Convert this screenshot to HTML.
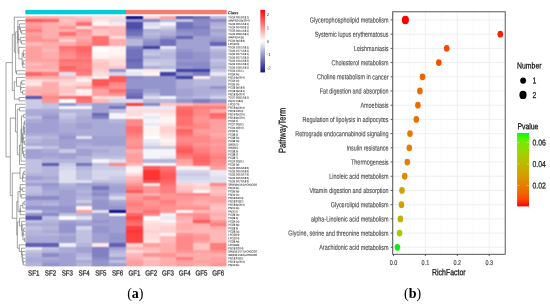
<!DOCTYPE html>
<html><head><meta charset="utf-8"><style>html,body{margin:0;padding:0;background:#fff;width:550px;height:304px;overflow:hidden;position:relative}</style></head><body>
<svg width="550" height="304" viewBox="0 0 550 304" style="position:absolute;left:0;top:0">
<rect width="550" height="304" fill="#fff"/>
<defs><filter id="soft" x="0" y="0" width="550" height="304" filterUnits="userSpaceOnUse" color-interpolation-filters="sRGB"><feConvolveMatrix order="3" kernelMatrix="1 2 1 2 4 2 1 2 1" divisor="16" edgeMode="duplicate"/></filter></defs>
<g>
<rect x="25.30" y="9.9" width="100.70" height="4.4" fill="#00CCD6"/>
<rect x="126.00" y="9.9" width="100.70" height="4.4" fill="#F87A70"/>
<defs><filter id="bl" x="0" y="0" width="550" height="304" filterUnits="userSpaceOnUse" color-interpolation-filters="sRGB"><feConvolveMatrix order="3" kernelMatrix="1 2 1 2 4 2 1 2 1" divisor="16" edgeMode="duplicate"/></filter><clipPath id="hc"><rect x="25.30" y="15.50" width="201.40" height="251.10"/></clipPath></defs>
<g clip-path="url(#hc)"><g shape-rendering="crispEdges" filter="url(#bl)">
<rect x="25.30" y="15.50" width="16.83" height="3.40" fill="#ffacac"/>
<rect x="42.08" y="15.50" width="16.83" height="3.40" fill="#ffacac"/>
<rect x="58.87" y="15.50" width="16.83" height="3.40" fill="#ffb8b8"/>
<rect x="75.65" y="15.50" width="16.83" height="3.40" fill="#ffc4c4"/>
<rect x="92.43" y="15.50" width="16.83" height="3.40" fill="#ffdbdb"/>
<rect x="109.22" y="15.50" width="16.83" height="3.40" fill="#ffdbdb"/>
<rect x="126.00" y="15.50" width="16.83" height="3.40" fill="#14148f"/>
<rect x="142.78" y="15.50" width="16.83" height="3.40" fill="#ffd0d0"/>
<rect x="159.57" y="15.50" width="16.83" height="3.40" fill="#ffa0a0"/>
<rect x="176.35" y="15.50" width="16.83" height="3.40" fill="#5a5ab1"/>
<rect x="193.13" y="15.50" width="16.83" height="3.40" fill="#7272bc"/>
<rect x="209.92" y="15.50" width="16.83" height="3.40" fill="#b8b8dd"/>
<rect x="25.30" y="18.85" width="16.83" height="3.40" fill="#ff5959"/>
<rect x="42.08" y="18.85" width="16.83" height="3.40" fill="#ff6565"/>
<rect x="58.87" y="18.85" width="16.83" height="3.40" fill="#ffc4c4"/>
<rect x="75.65" y="18.85" width="16.83" height="3.40" fill="#ffacac"/>
<rect x="92.43" y="18.85" width="16.83" height="3.40" fill="#ffe7e7"/>
<rect x="109.22" y="18.85" width="16.83" height="3.40" fill="#dfdff0"/>
<rect x="126.00" y="18.85" width="16.83" height="3.40" fill="#9595cd"/>
<rect x="142.78" y="18.85" width="16.83" height="3.40" fill="#8a8ac7"/>
<rect x="159.57" y="18.85" width="16.83" height="3.40" fill="#b8b8dd"/>
<rect x="176.35" y="18.85" width="16.83" height="3.40" fill="#c4c4e3"/>
<rect x="193.13" y="18.85" width="16.83" height="3.40" fill="#8a8ac7"/>
<rect x="209.92" y="18.85" width="16.83" height="3.40" fill="#8a8ac7"/>
<rect x="25.30" y="22.20" width="16.83" height="3.40" fill="#ffa0a0"/>
<rect x="42.08" y="22.20" width="16.83" height="3.40" fill="#ffacac"/>
<rect x="58.87" y="22.20" width="16.83" height="3.40" fill="#ffb8b8"/>
<rect x="75.65" y="22.20" width="16.83" height="3.40" fill="#ff7171"/>
<rect x="92.43" y="22.20" width="16.83" height="3.40" fill="#fff3f3"/>
<rect x="109.22" y="22.20" width="16.83" height="3.40" fill="#ffe7e7"/>
<rect x="126.00" y="22.20" width="16.83" height="3.40" fill="#4f4fab"/>
<rect x="142.78" y="22.20" width="16.83" height="3.40" fill="#dcdcee"/>
<rect x="159.57" y="22.20" width="16.83" height="3.40" fill="#f3f3f9"/>
<rect x="176.35" y="22.20" width="16.83" height="3.40" fill="#7272bc"/>
<rect x="193.13" y="22.20" width="16.83" height="3.40" fill="#8a8ac7"/>
<rect x="209.92" y="22.20" width="16.83" height="3.40" fill="#adadd8"/>
<rect x="25.30" y="25.54" width="16.83" height="3.40" fill="#ff9494"/>
<rect x="42.08" y="25.54" width="16.83" height="3.40" fill="#ffacac"/>
<rect x="58.87" y="25.54" width="16.83" height="3.40" fill="#ff9494"/>
<rect x="75.65" y="25.54" width="16.83" height="3.40" fill="#ffdbdb"/>
<rect x="92.43" y="25.54" width="16.83" height="3.40" fill="#ffacac"/>
<rect x="109.22" y="25.54" width="16.83" height="3.40" fill="#ffb8b8"/>
<rect x="126.00" y="25.54" width="16.83" height="3.40" fill="#4f4fab"/>
<rect x="142.78" y="25.54" width="16.83" height="3.40" fill="#e8e8f4"/>
<rect x="159.57" y="25.54" width="16.83" height="3.40" fill="#d0d0e9"/>
<rect x="176.35" y="25.54" width="16.83" height="3.40" fill="#7272bc"/>
<rect x="193.13" y="25.54" width="16.83" height="3.40" fill="#7e7ec1"/>
<rect x="209.92" y="25.54" width="16.83" height="3.40" fill="#b8b8dd"/>
<rect x="25.30" y="28.89" width="16.83" height="3.40" fill="#ff7d7d"/>
<rect x="42.08" y="28.89" width="16.83" height="3.40" fill="#ffacac"/>
<rect x="58.87" y="28.89" width="16.83" height="3.40" fill="#ffacac"/>
<rect x="75.65" y="28.89" width="16.83" height="3.40" fill="#ff9494"/>
<rect x="92.43" y="28.89" width="16.83" height="3.40" fill="#ffc4c4"/>
<rect x="109.22" y="28.89" width="16.83" height="3.40" fill="#ffb8b8"/>
<rect x="126.00" y="28.89" width="16.83" height="3.40" fill="#6666b6"/>
<rect x="142.78" y="28.89" width="16.83" height="3.40" fill="#adadd8"/>
<rect x="159.57" y="28.89" width="16.83" height="3.40" fill="#b8b8dd"/>
<rect x="176.35" y="28.89" width="16.83" height="3.40" fill="#8a8ac7"/>
<rect x="193.13" y="28.89" width="16.83" height="3.40" fill="#8a8ac7"/>
<rect x="209.92" y="28.89" width="16.83" height="3.40" fill="#a1a1d2"/>
<rect x="25.30" y="32.24" width="16.83" height="3.40" fill="#ffa0a0"/>
<rect x="42.08" y="32.24" width="16.83" height="3.40" fill="#ffacac"/>
<rect x="58.87" y="32.24" width="16.83" height="3.40" fill="#ff7171"/>
<rect x="75.65" y="32.24" width="16.83" height="3.40" fill="#ffa0a0"/>
<rect x="92.43" y="32.24" width="16.83" height="3.40" fill="#ffc4c4"/>
<rect x="109.22" y="32.24" width="16.83" height="3.40" fill="#ffb8b8"/>
<rect x="126.00" y="32.24" width="16.83" height="3.40" fill="#7272bc"/>
<rect x="142.78" y="32.24" width="16.83" height="3.40" fill="#b8b8dd"/>
<rect x="159.57" y="32.24" width="16.83" height="3.40" fill="#adadd8"/>
<rect x="176.35" y="32.24" width="16.83" height="3.40" fill="#9595cd"/>
<rect x="193.13" y="32.24" width="16.83" height="3.40" fill="#8a8ac7"/>
<rect x="209.92" y="32.24" width="16.83" height="3.40" fill="#adadd8"/>
<rect x="25.30" y="35.59" width="16.83" height="3.40" fill="#ff9494"/>
<rect x="42.08" y="35.59" width="16.83" height="3.40" fill="#ffacac"/>
<rect x="58.87" y="35.59" width="16.83" height="3.40" fill="#ffacac"/>
<rect x="75.65" y="35.59" width="16.83" height="3.40" fill="#ffacac"/>
<rect x="92.43" y="35.59" width="16.83" height="3.40" fill="#ff7171"/>
<rect x="109.22" y="35.59" width="16.83" height="3.40" fill="#ffdbdb"/>
<rect x="126.00" y="35.59" width="16.83" height="3.40" fill="#9595cd"/>
<rect x="142.78" y="35.59" width="16.83" height="3.40" fill="#adadd8"/>
<rect x="159.57" y="35.59" width="16.83" height="3.40" fill="#9595cd"/>
<rect x="176.35" y="35.59" width="16.83" height="3.40" fill="#6666b6"/>
<rect x="193.13" y="35.59" width="16.83" height="3.40" fill="#a1a1d2"/>
<rect x="209.92" y="35.59" width="16.83" height="3.40" fill="#a1a1d2"/>
<rect x="25.30" y="38.94" width="16.83" height="3.40" fill="#ff9494"/>
<rect x="42.08" y="38.94" width="16.83" height="3.40" fill="#ff9494"/>
<rect x="58.87" y="38.94" width="16.83" height="3.40" fill="#ffd0d0"/>
<rect x="75.65" y="38.94" width="16.83" height="3.40" fill="#ffa0a0"/>
<rect x="92.43" y="38.94" width="16.83" height="3.40" fill="#ff7171"/>
<rect x="109.22" y="38.94" width="16.83" height="3.40" fill="#ffacac"/>
<rect x="126.00" y="38.94" width="16.83" height="3.40" fill="#b8b8dd"/>
<rect x="142.78" y="38.94" width="16.83" height="3.40" fill="#9595cd"/>
<rect x="159.57" y="38.94" width="16.83" height="3.40" fill="#7272bc"/>
<rect x="176.35" y="38.94" width="16.83" height="3.40" fill="#a1a1d2"/>
<rect x="193.13" y="38.94" width="16.83" height="3.40" fill="#a1a1d2"/>
<rect x="209.92" y="38.94" width="16.83" height="3.40" fill="#9595cd"/>
<rect x="25.30" y="42.28" width="16.83" height="3.40" fill="#ffb8b8"/>
<rect x="42.08" y="42.28" width="16.83" height="3.40" fill="#ffacac"/>
<rect x="58.87" y="42.28" width="16.83" height="3.40" fill="#ffacac"/>
<rect x="75.65" y="42.28" width="16.83" height="3.40" fill="#ff9494"/>
<rect x="92.43" y="42.28" width="16.83" height="3.40" fill="#ff7171"/>
<rect x="109.22" y="42.28" width="16.83" height="3.40" fill="#ffacac"/>
<rect x="126.00" y="42.28" width="16.83" height="3.40" fill="#b8b8dd"/>
<rect x="142.78" y="42.28" width="16.83" height="3.40" fill="#8a8ac7"/>
<rect x="159.57" y="42.28" width="16.83" height="3.40" fill="#7272bc"/>
<rect x="176.35" y="42.28" width="16.83" height="3.40" fill="#a1a1d2"/>
<rect x="193.13" y="42.28" width="16.83" height="3.40" fill="#a1a1d2"/>
<rect x="209.92" y="42.28" width="16.83" height="3.40" fill="#6666b6"/>
<rect x="25.30" y="45.63" width="16.83" height="3.40" fill="#ffa0a0"/>
<rect x="42.08" y="45.63" width="16.83" height="3.40" fill="#ffacac"/>
<rect x="58.87" y="45.63" width="16.83" height="3.40" fill="#ff7171"/>
<rect x="75.65" y="45.63" width="16.83" height="3.40" fill="#ff6565"/>
<rect x="92.43" y="45.63" width="16.83" height="3.40" fill="#ffffff"/>
<rect x="109.22" y="45.63" width="16.83" height="3.40" fill="#fff3f3"/>
<rect x="126.00" y="45.63" width="16.83" height="3.40" fill="#7e7ec1"/>
<rect x="142.78" y="45.63" width="16.83" height="3.40" fill="#4343a5"/>
<rect x="159.57" y="45.63" width="16.83" height="3.40" fill="#e8e8f4"/>
<rect x="176.35" y="45.63" width="16.83" height="3.40" fill="#a1a1d2"/>
<rect x="193.13" y="45.63" width="16.83" height="3.40" fill="#a1a1d2"/>
<rect x="209.92" y="45.63" width="16.83" height="3.40" fill="#d0d0e9"/>
<rect x="25.30" y="48.98" width="16.83" height="3.40" fill="#ffa0a0"/>
<rect x="42.08" y="48.98" width="16.83" height="3.40" fill="#ffb8b8"/>
<rect x="58.87" y="48.98" width="16.83" height="3.40" fill="#ff7d7d"/>
<rect x="75.65" y="48.98" width="16.83" height="3.40" fill="#ff6565"/>
<rect x="92.43" y="48.98" width="16.83" height="3.40" fill="#ffffff"/>
<rect x="109.22" y="48.98" width="16.83" height="3.40" fill="#fff3f3"/>
<rect x="126.00" y="48.98" width="16.83" height="3.40" fill="#7272bc"/>
<rect x="142.78" y="48.98" width="16.83" height="3.40" fill="#b8b8dd"/>
<rect x="159.57" y="48.98" width="16.83" height="3.40" fill="#c4c4e3"/>
<rect x="176.35" y="48.98" width="16.83" height="3.40" fill="#9595cd"/>
<rect x="193.13" y="48.98" width="16.83" height="3.40" fill="#a1a1d2"/>
<rect x="209.92" y="48.98" width="16.83" height="3.40" fill="#b8b8dd"/>
<rect x="25.30" y="52.33" width="16.83" height="3.40" fill="#ffa0a0"/>
<rect x="42.08" y="52.33" width="16.83" height="3.40" fill="#ffacac"/>
<rect x="58.87" y="52.33" width="16.83" height="3.40" fill="#ff8888"/>
<rect x="75.65" y="52.33" width="16.83" height="3.40" fill="#ff7171"/>
<rect x="92.43" y="52.33" width="16.83" height="3.40" fill="#fff3f3"/>
<rect x="109.22" y="52.33" width="16.83" height="3.40" fill="#fff3f3"/>
<rect x="126.00" y="52.33" width="16.83" height="3.40" fill="#7272bc"/>
<rect x="142.78" y="52.33" width="16.83" height="3.40" fill="#c4c4e3"/>
<rect x="159.57" y="52.33" width="16.83" height="3.40" fill="#b8b8dd"/>
<rect x="176.35" y="52.33" width="16.83" height="3.40" fill="#8a8ac7"/>
<rect x="193.13" y="52.33" width="16.83" height="3.40" fill="#9595cd"/>
<rect x="209.92" y="52.33" width="16.83" height="3.40" fill="#adadd8"/>
<rect x="25.30" y="55.68" width="16.83" height="3.40" fill="#ffa0a0"/>
<rect x="42.08" y="55.68" width="16.83" height="3.40" fill="#ffacac"/>
<rect x="58.87" y="55.68" width="16.83" height="3.40" fill="#ff9494"/>
<rect x="75.65" y="55.68" width="16.83" height="3.40" fill="#ff7d7d"/>
<rect x="92.43" y="55.68" width="16.83" height="3.40" fill="#fff3f3"/>
<rect x="109.22" y="55.68" width="16.83" height="3.40" fill="#ffe7e7"/>
<rect x="126.00" y="55.68" width="16.83" height="3.40" fill="#7272bc"/>
<rect x="142.78" y="55.68" width="16.83" height="3.40" fill="#adadd8"/>
<rect x="159.57" y="55.68" width="16.83" height="3.40" fill="#b8b8dd"/>
<rect x="176.35" y="55.68" width="16.83" height="3.40" fill="#8a8ac7"/>
<rect x="193.13" y="55.68" width="16.83" height="3.40" fill="#9595cd"/>
<rect x="209.92" y="55.68" width="16.83" height="3.40" fill="#adadd8"/>
<rect x="25.30" y="59.02" width="16.83" height="3.40" fill="#ffa0a0"/>
<rect x="42.08" y="59.02" width="16.83" height="3.40" fill="#ffa0a0"/>
<rect x="58.87" y="59.02" width="16.83" height="3.40" fill="#ff7171"/>
<rect x="75.65" y="59.02" width="16.83" height="3.40" fill="#ff7171"/>
<rect x="92.43" y="59.02" width="16.83" height="3.40" fill="#ffd0d0"/>
<rect x="109.22" y="59.02" width="16.83" height="3.40" fill="#ffdbdb"/>
<rect x="126.00" y="59.02" width="16.83" height="3.40" fill="#6666b6"/>
<rect x="142.78" y="59.02" width="16.83" height="3.40" fill="#c4c4e3"/>
<rect x="159.57" y="59.02" width="16.83" height="3.40" fill="#c4c4e3"/>
<rect x="176.35" y="59.02" width="16.83" height="3.40" fill="#9595cd"/>
<rect x="193.13" y="59.02" width="16.83" height="3.40" fill="#9595cd"/>
<rect x="209.92" y="59.02" width="16.83" height="3.40" fill="#c4c4e3"/>
<rect x="25.30" y="62.37" width="16.83" height="3.40" fill="#ffb8b8"/>
<rect x="42.08" y="62.37" width="16.83" height="3.40" fill="#ffacac"/>
<rect x="58.87" y="62.37" width="16.83" height="3.40" fill="#ff7d7d"/>
<rect x="75.65" y="62.37" width="16.83" height="3.40" fill="#ff7d7d"/>
<rect x="92.43" y="62.37" width="16.83" height="3.40" fill="#ffc4c4"/>
<rect x="109.22" y="62.37" width="16.83" height="3.40" fill="#ffdbdb"/>
<rect x="126.00" y="62.37" width="16.83" height="3.40" fill="#7272bc"/>
<rect x="142.78" y="62.37" width="16.83" height="3.40" fill="#d0d0e9"/>
<rect x="159.57" y="62.37" width="16.83" height="3.40" fill="#c4c4e3"/>
<rect x="176.35" y="62.37" width="16.83" height="3.40" fill="#8a8ac7"/>
<rect x="193.13" y="62.37" width="16.83" height="3.40" fill="#8a8ac7"/>
<rect x="209.92" y="62.37" width="16.83" height="3.40" fill="#b8b8dd"/>
<rect x="25.30" y="65.72" width="16.83" height="3.40" fill="#ffacac"/>
<rect x="42.08" y="65.72" width="16.83" height="3.40" fill="#ffacac"/>
<rect x="58.87" y="65.72" width="16.83" height="3.40" fill="#ff6565"/>
<rect x="75.65" y="65.72" width="16.83" height="3.40" fill="#ff7d7d"/>
<rect x="92.43" y="65.72" width="16.83" height="3.40" fill="#ffc4c4"/>
<rect x="109.22" y="65.72" width="16.83" height="3.40" fill="#ffc4c4"/>
<rect x="126.00" y="65.72" width="16.83" height="3.40" fill="#7272bc"/>
<rect x="142.78" y="65.72" width="16.83" height="3.40" fill="#adadd8"/>
<rect x="159.57" y="65.72" width="16.83" height="3.40" fill="#b8b8dd"/>
<rect x="176.35" y="65.72" width="16.83" height="3.40" fill="#9595cd"/>
<rect x="193.13" y="65.72" width="16.83" height="3.40" fill="#8a8ac7"/>
<rect x="209.92" y="65.72" width="16.83" height="3.40" fill="#adadd8"/>
<rect x="25.30" y="69.07" width="16.83" height="3.40" fill="#ffb8b8"/>
<rect x="42.08" y="69.07" width="16.83" height="3.40" fill="#ffb8b8"/>
<rect x="58.87" y="69.07" width="16.83" height="3.40" fill="#ff7171"/>
<rect x="75.65" y="69.07" width="16.83" height="3.40" fill="#ff7171"/>
<rect x="92.43" y="69.07" width="16.83" height="3.40" fill="#ffd0d0"/>
<rect x="109.22" y="69.07" width="16.83" height="3.40" fill="#9595cd"/>
<rect x="126.00" y="69.07" width="16.83" height="3.40" fill="#f3f3f9"/>
<rect x="142.78" y="69.07" width="16.83" height="3.40" fill="#ffe7e7"/>
<rect x="159.57" y="69.07" width="16.83" height="3.40" fill="#e8e8f4"/>
<rect x="176.35" y="69.07" width="16.83" height="3.40" fill="#4343a5"/>
<rect x="193.13" y="69.07" width="16.83" height="3.40" fill="#4343a5"/>
<rect x="209.92" y="69.07" width="16.83" height="3.40" fill="#c4c4e3"/>
<rect x="25.30" y="72.42" width="16.83" height="3.40" fill="#ff6565"/>
<rect x="42.08" y="72.42" width="16.83" height="3.40" fill="#ff7d7d"/>
<rect x="58.87" y="72.42" width="16.83" height="3.40" fill="#dfdff0"/>
<rect x="75.65" y="72.42" width="16.83" height="3.40" fill="#ff7d7d"/>
<rect x="92.43" y="72.42" width="16.83" height="3.40" fill="#ffdbdb"/>
<rect x="109.22" y="72.42" width="16.83" height="3.40" fill="#d5d5eb"/>
<rect x="126.00" y="72.42" width="16.83" height="3.40" fill="#e8e8f4"/>
<rect x="142.78" y="72.42" width="16.83" height="3.40" fill="#fff3f3"/>
<rect x="159.57" y="72.42" width="16.83" height="3.40" fill="#4343a5"/>
<rect x="176.35" y="72.42" width="16.83" height="3.40" fill="#9595cd"/>
<rect x="193.13" y="72.42" width="16.83" height="3.40" fill="#7e7ec1"/>
<rect x="209.92" y="72.42" width="16.83" height="3.40" fill="#e8e8f4"/>
<rect x="25.30" y="75.76" width="16.83" height="3.40" fill="#ffacac"/>
<rect x="42.08" y="75.76" width="16.83" height="3.40" fill="#ffacac"/>
<rect x="58.87" y="75.76" width="16.83" height="3.40" fill="#ffb8b8"/>
<rect x="75.65" y="75.76" width="16.83" height="3.40" fill="#ffdbdb"/>
<rect x="92.43" y="75.76" width="16.83" height="3.40" fill="#fff3f3"/>
<rect x="109.22" y="75.76" width="16.83" height="3.40" fill="#ff5959"/>
<rect x="126.00" y="75.76" width="16.83" height="3.40" fill="#8a8ac7"/>
<rect x="142.78" y="75.76" width="16.83" height="3.40" fill="#9595cd"/>
<rect x="159.57" y="75.76" width="16.83" height="3.40" fill="#9595cd"/>
<rect x="176.35" y="75.76" width="16.83" height="3.40" fill="#4343a5"/>
<rect x="193.13" y="75.76" width="16.83" height="3.40" fill="#ffecec"/>
<rect x="209.92" y="75.76" width="16.83" height="3.40" fill="#b8b8dd"/>
<rect x="25.30" y="79.11" width="16.83" height="3.40" fill="#ffdbdb"/>
<rect x="42.08" y="79.11" width="16.83" height="3.40" fill="#ffd0d0"/>
<rect x="58.87" y="79.11" width="16.83" height="3.40" fill="#ffd0d0"/>
<rect x="75.65" y="79.11" width="16.83" height="3.40" fill="#fff3f3"/>
<rect x="92.43" y="79.11" width="16.83" height="3.40" fill="#ff5959"/>
<rect x="109.22" y="79.11" width="16.83" height="3.40" fill="#ff5959"/>
<rect x="126.00" y="79.11" width="16.83" height="3.40" fill="#9595cd"/>
<rect x="142.78" y="79.11" width="16.83" height="3.40" fill="#9595cd"/>
<rect x="159.57" y="79.11" width="16.83" height="3.40" fill="#9595cd"/>
<rect x="176.35" y="79.11" width="16.83" height="3.40" fill="#adadd8"/>
<rect x="193.13" y="79.11" width="16.83" height="3.40" fill="#b8b8dd"/>
<rect x="209.92" y="79.11" width="16.83" height="3.40" fill="#b8b8dd"/>
<rect x="25.30" y="82.46" width="16.83" height="3.40" fill="#ffe7e7"/>
<rect x="42.08" y="82.46" width="16.83" height="3.40" fill="#ffacac"/>
<rect x="58.87" y="82.46" width="16.83" height="3.40" fill="#ffdbdb"/>
<rect x="75.65" y="82.46" width="16.83" height="3.40" fill="#ffd0d0"/>
<rect x="92.43" y="82.46" width="16.83" height="3.40" fill="#ff5959"/>
<rect x="109.22" y="82.46" width="16.83" height="3.40" fill="#ff8888"/>
<rect x="126.00" y="82.46" width="16.83" height="3.40" fill="#9595cd"/>
<rect x="142.78" y="82.46" width="16.83" height="3.40" fill="#9595cd"/>
<rect x="159.57" y="82.46" width="16.83" height="3.40" fill="#9595cd"/>
<rect x="176.35" y="82.46" width="16.83" height="3.40" fill="#adadd8"/>
<rect x="193.13" y="82.46" width="16.83" height="3.40" fill="#b8b8dd"/>
<rect x="209.92" y="82.46" width="16.83" height="3.40" fill="#b8b8dd"/>
<rect x="25.30" y="85.81" width="16.83" height="3.40" fill="#ffb8b8"/>
<rect x="42.08" y="85.81" width="16.83" height="3.40" fill="#ffacac"/>
<rect x="58.87" y="85.81" width="16.83" height="3.40" fill="#ffc4c4"/>
<rect x="75.65" y="85.81" width="16.83" height="3.40" fill="#ffacac"/>
<rect x="92.43" y="85.81" width="16.83" height="3.40" fill="#ff7d7d"/>
<rect x="109.22" y="85.81" width="16.83" height="3.40" fill="#ff9494"/>
<rect x="126.00" y="85.81" width="16.83" height="3.40" fill="#9595cd"/>
<rect x="142.78" y="85.81" width="16.83" height="3.40" fill="#9595cd"/>
<rect x="159.57" y="85.81" width="16.83" height="3.40" fill="#9595cd"/>
<rect x="176.35" y="85.81" width="16.83" height="3.40" fill="#adadd8"/>
<rect x="193.13" y="85.81" width="16.83" height="3.40" fill="#adadd8"/>
<rect x="209.92" y="85.81" width="16.83" height="3.40" fill="#9595cd"/>
<rect x="25.30" y="89.16" width="16.83" height="3.40" fill="#ffacac"/>
<rect x="42.08" y="89.16" width="16.83" height="3.40" fill="#ffacac"/>
<rect x="58.87" y="89.16" width="16.83" height="3.40" fill="#ffc4c4"/>
<rect x="75.65" y="89.16" width="16.83" height="3.40" fill="#fff3f3"/>
<rect x="92.43" y="89.16" width="16.83" height="3.40" fill="#ffa0a0"/>
<rect x="109.22" y="89.16" width="16.83" height="3.40" fill="#ff7171"/>
<rect x="126.00" y="89.16" width="16.83" height="3.40" fill="#7e7ec1"/>
<rect x="142.78" y="89.16" width="16.83" height="3.40" fill="#a1a1d2"/>
<rect x="159.57" y="89.16" width="16.83" height="3.40" fill="#9595cd"/>
<rect x="176.35" y="89.16" width="16.83" height="3.40" fill="#a1a1d2"/>
<rect x="193.13" y="89.16" width="16.83" height="3.40" fill="#adadd8"/>
<rect x="209.92" y="89.16" width="16.83" height="3.40" fill="#adadd8"/>
<rect x="25.30" y="92.50" width="16.83" height="3.40" fill="#ffacac"/>
<rect x="42.08" y="92.50" width="16.83" height="3.40" fill="#ffa0a0"/>
<rect x="58.87" y="92.50" width="16.83" height="3.40" fill="#ffd0d0"/>
<rect x="75.65" y="92.50" width="16.83" height="3.40" fill="#ffe7e7"/>
<rect x="92.43" y="92.50" width="16.83" height="3.40" fill="#ffa0a0"/>
<rect x="109.22" y="92.50" width="16.83" height="3.40" fill="#ff9494"/>
<rect x="126.00" y="92.50" width="16.83" height="3.40" fill="#7272bc"/>
<rect x="142.78" y="92.50" width="16.83" height="3.40" fill="#b8b8dd"/>
<rect x="159.57" y="92.50" width="16.83" height="3.40" fill="#9595cd"/>
<rect x="176.35" y="92.50" width="16.83" height="3.40" fill="#a1a1d2"/>
<rect x="193.13" y="92.50" width="16.83" height="3.40" fill="#adadd8"/>
<rect x="209.92" y="92.50" width="16.83" height="3.40" fill="#b8b8dd"/>
<rect x="25.30" y="95.85" width="16.83" height="3.40" fill="#5656ae"/>
<rect x="42.08" y="95.85" width="16.83" height="3.40" fill="#ff8888"/>
<rect x="58.87" y="95.85" width="16.83" height="3.40" fill="#ff7171"/>
<rect x="75.65" y="95.85" width="16.83" height="3.40" fill="#ff6565"/>
<rect x="92.43" y="95.85" width="16.83" height="3.40" fill="#ffdbdb"/>
<rect x="109.22" y="95.85" width="16.83" height="3.40" fill="#ffdbdb"/>
<rect x="126.00" y="95.85" width="16.83" height="3.40" fill="#6666b6"/>
<rect x="142.78" y="95.85" width="16.83" height="3.40" fill="#dcdcee"/>
<rect x="159.57" y="95.85" width="16.83" height="3.40" fill="#f3f3f9"/>
<rect x="176.35" y="95.85" width="16.83" height="3.40" fill="#adadd8"/>
<rect x="193.13" y="95.85" width="16.83" height="3.40" fill="#b8b8dd"/>
<rect x="209.92" y="95.85" width="16.83" height="3.40" fill="#d0d0e9"/>
<rect x="25.30" y="99.20" width="16.83" height="3.40" fill="#cacae6"/>
<rect x="42.08" y="99.20" width="16.83" height="3.40" fill="#ff9494"/>
<rect x="58.87" y="99.20" width="16.83" height="3.40" fill="#ffffff"/>
<rect x="75.65" y="99.20" width="16.83" height="3.40" fill="#ff7171"/>
<rect x="92.43" y="99.20" width="16.83" height="3.40" fill="#ffb8b8"/>
<rect x="109.22" y="99.20" width="16.83" height="3.40" fill="#d5d5eb"/>
<rect x="126.00" y="99.20" width="16.83" height="3.40" fill="#dcdcee"/>
<rect x="142.78" y="99.20" width="16.83" height="3.40" fill="#b8b8dd"/>
<rect x="159.57" y="99.20" width="16.83" height="3.40" fill="#b8b8dd"/>
<rect x="176.35" y="99.20" width="16.83" height="3.40" fill="#9595cd"/>
<rect x="193.13" y="99.20" width="16.83" height="3.40" fill="#7e7ec1"/>
<rect x="209.92" y="99.20" width="16.83" height="3.40" fill="#9595cd"/>
<rect x="25.30" y="102.55" width="16.83" height="3.40" fill="#cacae6"/>
<rect x="42.08" y="102.55" width="16.83" height="3.40" fill="#c0c0e1"/>
<rect x="58.87" y="102.55" width="16.83" height="3.40" fill="#9595cd"/>
<rect x="75.65" y="102.55" width="16.83" height="3.40" fill="#b5b5dc"/>
<rect x="92.43" y="102.55" width="16.83" height="3.40" fill="#a0a0d2"/>
<rect x="109.22" y="102.55" width="16.83" height="3.40" fill="#a0a0d2"/>
<rect x="126.00" y="102.55" width="16.83" height="3.40" fill="#ff4141"/>
<rect x="142.78" y="102.55" width="16.83" height="3.40" fill="#8b8bc8"/>
<rect x="159.57" y="102.55" width="16.83" height="3.40" fill="#ffc4c4"/>
<rect x="176.35" y="102.55" width="16.83" height="3.40" fill="#ffb8b8"/>
<rect x="193.13" y="102.55" width="16.83" height="3.40" fill="#ffa0a0"/>
<rect x="209.92" y="102.55" width="16.83" height="3.40" fill="#ffa0a0"/>
<rect x="25.30" y="105.90" width="16.83" height="3.40" fill="#cacae6"/>
<rect x="42.08" y="105.90" width="16.83" height="3.40" fill="#c0c0e1"/>
<rect x="58.87" y="105.90" width="16.83" height="3.40" fill="#f4f4fa"/>
<rect x="75.65" y="105.90" width="16.83" height="3.40" fill="#f4f4fa"/>
<rect x="92.43" y="105.90" width="16.83" height="3.40" fill="#a0a0d2"/>
<rect x="109.22" y="105.90" width="16.83" height="3.40" fill="#7676bd"/>
<rect x="126.00" y="105.90" width="16.83" height="3.40" fill="#eaeaf5"/>
<rect x="142.78" y="105.90" width="16.83" height="3.40" fill="#eaeaf5"/>
<rect x="159.57" y="105.90" width="16.83" height="3.40" fill="#eaeaf5"/>
<rect x="176.35" y="105.90" width="16.83" height="3.40" fill="#ff7171"/>
<rect x="193.13" y="105.90" width="16.83" height="3.40" fill="#ff7d7d"/>
<rect x="209.92" y="105.90" width="16.83" height="3.40" fill="#ff7d7d"/>
<rect x="25.30" y="109.24" width="16.83" height="3.40" fill="#aaaad7"/>
<rect x="42.08" y="109.24" width="16.83" height="3.40" fill="#aaaad7"/>
<rect x="58.87" y="109.24" width="16.83" height="3.40" fill="#b5b5dc"/>
<rect x="75.65" y="109.24" width="16.83" height="3.40" fill="#b5b5dc"/>
<rect x="92.43" y="109.24" width="16.83" height="3.40" fill="#a0a0d2"/>
<rect x="109.22" y="109.24" width="16.83" height="3.40" fill="#c0c0e1"/>
<rect x="126.00" y="109.24" width="16.83" height="3.40" fill="#ffdbdb"/>
<rect x="142.78" y="109.24" width="16.83" height="3.40" fill="#ffdbdb"/>
<rect x="159.57" y="109.24" width="16.83" height="3.40" fill="#ffdbdb"/>
<rect x="176.35" y="109.24" width="16.83" height="3.40" fill="#ff6565"/>
<rect x="193.13" y="109.24" width="16.83" height="3.40" fill="#ff8888"/>
<rect x="209.92" y="109.24" width="16.83" height="3.40" fill="#ffacac"/>
<rect x="25.30" y="112.59" width="16.83" height="3.40" fill="#aaaad7"/>
<rect x="42.08" y="112.59" width="16.83" height="3.40" fill="#a0a0d2"/>
<rect x="58.87" y="112.59" width="16.83" height="3.40" fill="#cacae6"/>
<rect x="75.65" y="112.59" width="16.83" height="3.40" fill="#b5b5dc"/>
<rect x="92.43" y="112.59" width="16.83" height="3.40" fill="#6b6bb8"/>
<rect x="109.22" y="112.59" width="16.83" height="3.40" fill="#f4f4fa"/>
<rect x="126.00" y="112.59" width="16.83" height="3.40" fill="#ffdbdb"/>
<rect x="142.78" y="112.59" width="16.83" height="3.40" fill="#f4f4fa"/>
<rect x="159.57" y="112.59" width="16.83" height="3.40" fill="#ffe7e7"/>
<rect x="176.35" y="112.59" width="16.83" height="3.40" fill="#ff6565"/>
<rect x="193.13" y="112.59" width="16.83" height="3.40" fill="#ff8888"/>
<rect x="209.92" y="112.59" width="16.83" height="3.40" fill="#ff6565"/>
<rect x="25.30" y="115.94" width="16.83" height="3.40" fill="#c0c0e1"/>
<rect x="42.08" y="115.94" width="16.83" height="3.40" fill="#9595cd"/>
<rect x="58.87" y="115.94" width="16.83" height="3.40" fill="#c0c0e1"/>
<rect x="75.65" y="115.94" width="16.83" height="3.40" fill="#aaaad7"/>
<rect x="92.43" y="115.94" width="16.83" height="3.40" fill="#8080c3"/>
<rect x="109.22" y="115.94" width="16.83" height="3.40" fill="#f4f4fa"/>
<rect x="126.00" y="115.94" width="16.83" height="3.40" fill="#fff3f3"/>
<rect x="142.78" y="115.94" width="16.83" height="3.40" fill="#eaeaf5"/>
<rect x="159.57" y="115.94" width="16.83" height="3.40" fill="#fff3f3"/>
<rect x="176.35" y="115.94" width="16.83" height="3.40" fill="#ff7171"/>
<rect x="193.13" y="115.94" width="16.83" height="3.40" fill="#ff9494"/>
<rect x="209.92" y="115.94" width="16.83" height="3.40" fill="#ff7171"/>
<rect x="25.30" y="119.29" width="16.83" height="3.40" fill="#aaaad7"/>
<rect x="42.08" y="119.29" width="16.83" height="3.40" fill="#a0a0d2"/>
<rect x="58.87" y="119.29" width="16.83" height="3.40" fill="#b5b5dc"/>
<rect x="75.65" y="119.29" width="16.83" height="3.40" fill="#aaaad7"/>
<rect x="92.43" y="119.29" width="16.83" height="3.40" fill="#aaaad7"/>
<rect x="109.22" y="119.29" width="16.83" height="3.40" fill="#b5b5dc"/>
<rect x="126.00" y="119.29" width="16.83" height="3.40" fill="#ff8888"/>
<rect x="142.78" y="119.29" width="16.83" height="3.40" fill="#f4f4fa"/>
<rect x="159.57" y="119.29" width="16.83" height="3.40" fill="#fff3f3"/>
<rect x="176.35" y="119.29" width="16.83" height="3.40" fill="#ff7171"/>
<rect x="193.13" y="119.29" width="16.83" height="3.40" fill="#ff9494"/>
<rect x="209.92" y="119.29" width="16.83" height="3.40" fill="#ffa0a0"/>
<rect x="25.30" y="122.64" width="16.83" height="3.40" fill="#a0a0d2"/>
<rect x="42.08" y="122.64" width="16.83" height="3.40" fill="#a0a0d2"/>
<rect x="58.87" y="122.64" width="16.83" height="3.40" fill="#aaaad7"/>
<rect x="75.65" y="122.64" width="16.83" height="3.40" fill="#a0a0d2"/>
<rect x="92.43" y="122.64" width="16.83" height="3.40" fill="#aaaad7"/>
<rect x="109.22" y="122.64" width="16.83" height="3.40" fill="#aaaad7"/>
<rect x="126.00" y="122.64" width="16.83" height="3.40" fill="#ff8888"/>
<rect x="142.78" y="122.64" width="16.83" height="3.40" fill="#eaeaf5"/>
<rect x="159.57" y="122.64" width="16.83" height="3.40" fill="#ffe7e7"/>
<rect x="176.35" y="122.64" width="16.83" height="3.40" fill="#ff7171"/>
<rect x="193.13" y="122.64" width="16.83" height="3.40" fill="#ff8888"/>
<rect x="209.92" y="122.64" width="16.83" height="3.40" fill="#ffa0a0"/>
<rect x="25.30" y="125.98" width="16.83" height="3.40" fill="#a0a0d2"/>
<rect x="42.08" y="125.98" width="16.83" height="3.40" fill="#a0a0d2"/>
<rect x="58.87" y="125.98" width="16.83" height="3.40" fill="#aaaad7"/>
<rect x="75.65" y="125.98" width="16.83" height="3.40" fill="#a0a0d2"/>
<rect x="92.43" y="125.98" width="16.83" height="3.40" fill="#aaaad7"/>
<rect x="109.22" y="125.98" width="16.83" height="3.40" fill="#aaaad7"/>
<rect x="126.00" y="125.98" width="16.83" height="3.40" fill="#ff7171"/>
<rect x="142.78" y="125.98" width="16.83" height="3.40" fill="#fff3f3"/>
<rect x="159.57" y="125.98" width="16.83" height="3.40" fill="#ffd0d0"/>
<rect x="176.35" y="125.98" width="16.83" height="3.40" fill="#ff8888"/>
<rect x="193.13" y="125.98" width="16.83" height="3.40" fill="#ff8888"/>
<rect x="209.92" y="125.98" width="16.83" height="3.40" fill="#ffa0a0"/>
<rect x="25.30" y="129.33" width="16.83" height="3.40" fill="#a0a0d2"/>
<rect x="42.08" y="129.33" width="16.83" height="3.40" fill="#a0a0d2"/>
<rect x="58.87" y="129.33" width="16.83" height="3.40" fill="#aaaad7"/>
<rect x="75.65" y="129.33" width="16.83" height="3.40" fill="#aaaad7"/>
<rect x="92.43" y="129.33" width="16.83" height="3.40" fill="#aaaad7"/>
<rect x="109.22" y="129.33" width="16.83" height="3.40" fill="#aaaad7"/>
<rect x="126.00" y="129.33" width="16.83" height="3.40" fill="#ff7171"/>
<rect x="142.78" y="129.33" width="16.83" height="3.40" fill="#fff3f3"/>
<rect x="159.57" y="129.33" width="16.83" height="3.40" fill="#ffd0d0"/>
<rect x="176.35" y="129.33" width="16.83" height="3.40" fill="#ff6565"/>
<rect x="193.13" y="129.33" width="16.83" height="3.40" fill="#ffa0a0"/>
<rect x="209.92" y="129.33" width="16.83" height="3.40" fill="#ffa0a0"/>
<rect x="25.30" y="132.68" width="16.83" height="3.40" fill="#aaaad7"/>
<rect x="42.08" y="132.68" width="16.83" height="3.40" fill="#aaaad7"/>
<rect x="58.87" y="132.68" width="16.83" height="3.40" fill="#a0a0d2"/>
<rect x="75.65" y="132.68" width="16.83" height="3.40" fill="#aaaad7"/>
<rect x="92.43" y="132.68" width="16.83" height="3.40" fill="#aaaad7"/>
<rect x="109.22" y="132.68" width="16.83" height="3.40" fill="#aaaad7"/>
<rect x="126.00" y="132.68" width="16.83" height="3.40" fill="#ff7d7d"/>
<rect x="142.78" y="132.68" width="16.83" height="3.40" fill="#fff3f3"/>
<rect x="159.57" y="132.68" width="16.83" height="3.40" fill="#ffdbdb"/>
<rect x="176.35" y="132.68" width="16.83" height="3.40" fill="#ff7171"/>
<rect x="193.13" y="132.68" width="16.83" height="3.40" fill="#ff9494"/>
<rect x="209.92" y="132.68" width="16.83" height="3.40" fill="#ffacac"/>
<rect x="25.30" y="136.03" width="16.83" height="3.40" fill="#c0c0e1"/>
<rect x="42.08" y="136.03" width="16.83" height="3.40" fill="#b5b5dc"/>
<rect x="58.87" y="136.03" width="16.83" height="3.40" fill="#9595cd"/>
<rect x="75.65" y="136.03" width="16.83" height="3.40" fill="#dfdff0"/>
<rect x="92.43" y="136.03" width="16.83" height="3.40" fill="#a0a0d2"/>
<rect x="109.22" y="136.03" width="16.83" height="3.40" fill="#a0a0d2"/>
<rect x="126.00" y="136.03" width="16.83" height="3.40" fill="#ff8888"/>
<rect x="142.78" y="136.03" width="16.83" height="3.40" fill="#ffffff"/>
<rect x="159.57" y="136.03" width="16.83" height="3.40" fill="#ffe7e7"/>
<rect x="176.35" y="136.03" width="16.83" height="3.40" fill="#ff8888"/>
<rect x="193.13" y="136.03" width="16.83" height="3.40" fill="#ff8888"/>
<rect x="209.92" y="136.03" width="16.83" height="3.40" fill="#ffa0a0"/>
<rect x="25.30" y="139.38" width="16.83" height="3.40" fill="#b5b5dc"/>
<rect x="42.08" y="139.38" width="16.83" height="3.40" fill="#aaaad7"/>
<rect x="58.87" y="139.38" width="16.83" height="3.40" fill="#a0a0d2"/>
<rect x="75.65" y="139.38" width="16.83" height="3.40" fill="#a0a0d2"/>
<rect x="92.43" y="139.38" width="16.83" height="3.40" fill="#a0a0d2"/>
<rect x="109.22" y="139.38" width="16.83" height="3.40" fill="#a0a0d2"/>
<rect x="126.00" y="139.38" width="16.83" height="3.40" fill="#ff9494"/>
<rect x="142.78" y="139.38" width="16.83" height="3.40" fill="#eaeaf5"/>
<rect x="159.57" y="139.38" width="16.83" height="3.40" fill="#fff3f3"/>
<rect x="176.35" y="139.38" width="16.83" height="3.40" fill="#ff8888"/>
<rect x="193.13" y="139.38" width="16.83" height="3.40" fill="#ff8888"/>
<rect x="209.92" y="139.38" width="16.83" height="3.40" fill="#ff9494"/>
<rect x="25.30" y="142.72" width="16.83" height="3.40" fill="#aaaad7"/>
<rect x="42.08" y="142.72" width="16.83" height="3.40" fill="#aaaad7"/>
<rect x="58.87" y="142.72" width="16.83" height="3.40" fill="#a0a0d2"/>
<rect x="75.65" y="142.72" width="16.83" height="3.40" fill="#aaaad7"/>
<rect x="92.43" y="142.72" width="16.83" height="3.40" fill="#a0a0d2"/>
<rect x="109.22" y="142.72" width="16.83" height="3.40" fill="#a0a0d2"/>
<rect x="126.00" y="142.72" width="16.83" height="3.40" fill="#ff9494"/>
<rect x="142.78" y="142.72" width="16.83" height="3.40" fill="#dfdff0"/>
<rect x="159.57" y="142.72" width="16.83" height="3.40" fill="#ffe7e7"/>
<rect x="176.35" y="142.72" width="16.83" height="3.40" fill="#ff7d7d"/>
<rect x="193.13" y="142.72" width="16.83" height="3.40" fill="#ff9494"/>
<rect x="209.92" y="142.72" width="16.83" height="3.40" fill="#ffa0a0"/>
<rect x="25.30" y="146.07" width="16.83" height="3.40" fill="#d5d5eb"/>
<rect x="42.08" y="146.07" width="16.83" height="3.40" fill="#c0c0e1"/>
<rect x="58.87" y="146.07" width="16.83" height="3.40" fill="#a0a0d2"/>
<rect x="75.65" y="146.07" width="16.83" height="3.40" fill="#b5b5dc"/>
<rect x="92.43" y="146.07" width="16.83" height="3.40" fill="#b5b5dc"/>
<rect x="109.22" y="146.07" width="16.83" height="3.40" fill="#b5b5dc"/>
<rect x="126.00" y="146.07" width="16.83" height="3.40" fill="#ff8888"/>
<rect x="142.78" y="146.07" width="16.83" height="3.40" fill="#cacae6"/>
<rect x="159.57" y="146.07" width="16.83" height="3.40" fill="#cacae6"/>
<rect x="176.35" y="146.07" width="16.83" height="3.40" fill="#ff6565"/>
<rect x="193.13" y="146.07" width="16.83" height="3.40" fill="#ff8888"/>
<rect x="209.92" y="146.07" width="16.83" height="3.40" fill="#ff9494"/>
<rect x="25.30" y="149.42" width="16.83" height="3.40" fill="#a0a0d2"/>
<rect x="42.08" y="149.42" width="16.83" height="3.40" fill="#aaaad7"/>
<rect x="58.87" y="149.42" width="16.83" height="3.40" fill="#cacae6"/>
<rect x="75.65" y="149.42" width="16.83" height="3.40" fill="#a0a0d2"/>
<rect x="92.43" y="149.42" width="16.83" height="3.40" fill="#aaaad7"/>
<rect x="109.22" y="149.42" width="16.83" height="3.40" fill="#b5b5dc"/>
<rect x="126.00" y="149.42" width="16.83" height="3.40" fill="#ffacac"/>
<rect x="142.78" y="149.42" width="16.83" height="3.40" fill="#f4f4fa"/>
<rect x="159.57" y="149.42" width="16.83" height="3.40" fill="#f4f4fa"/>
<rect x="176.35" y="149.42" width="16.83" height="3.40" fill="#ff5959"/>
<rect x="193.13" y="149.42" width="16.83" height="3.40" fill="#ff7d7d"/>
<rect x="209.92" y="149.42" width="16.83" height="3.40" fill="#ff9494"/>
<rect x="25.30" y="152.77" width="16.83" height="3.40" fill="#a0a0d2"/>
<rect x="42.08" y="152.77" width="16.83" height="3.40" fill="#a0a0d2"/>
<rect x="58.87" y="152.77" width="16.83" height="3.40" fill="#a0a0d2"/>
<rect x="75.65" y="152.77" width="16.83" height="3.40" fill="#a0a0d2"/>
<rect x="92.43" y="152.77" width="16.83" height="3.40" fill="#b5b5dc"/>
<rect x="109.22" y="152.77" width="16.83" height="3.40" fill="#b5b5dc"/>
<rect x="126.00" y="152.77" width="16.83" height="3.40" fill="#ffa0a0"/>
<rect x="142.78" y="152.77" width="16.83" height="3.40" fill="#f4f4fa"/>
<rect x="159.57" y="152.77" width="16.83" height="3.40" fill="#f4f4fa"/>
<rect x="176.35" y="152.77" width="16.83" height="3.40" fill="#ff7171"/>
<rect x="193.13" y="152.77" width="16.83" height="3.40" fill="#ff7171"/>
<rect x="209.92" y="152.77" width="16.83" height="3.40" fill="#ff8888"/>
<rect x="25.30" y="156.12" width="16.83" height="3.40" fill="#a0a0d2"/>
<rect x="42.08" y="156.12" width="16.83" height="3.40" fill="#aaaad7"/>
<rect x="58.87" y="156.12" width="16.83" height="3.40" fill="#a0a0d2"/>
<rect x="75.65" y="156.12" width="16.83" height="3.40" fill="#b5b5dc"/>
<rect x="92.43" y="156.12" width="16.83" height="3.40" fill="#c0c0e1"/>
<rect x="109.22" y="156.12" width="16.83" height="3.40" fill="#c0c0e1"/>
<rect x="126.00" y="156.12" width="16.83" height="3.40" fill="#ffa0a0"/>
<rect x="142.78" y="156.12" width="16.83" height="3.40" fill="#f4f4fa"/>
<rect x="159.57" y="156.12" width="16.83" height="3.40" fill="#eaeaf5"/>
<rect x="176.35" y="156.12" width="16.83" height="3.40" fill="#ff7d7d"/>
<rect x="193.13" y="156.12" width="16.83" height="3.40" fill="#ff6565"/>
<rect x="209.92" y="156.12" width="16.83" height="3.40" fill="#ff7d7d"/>
<rect x="25.30" y="159.46" width="16.83" height="3.40" fill="#c0c0e1"/>
<rect x="42.08" y="159.46" width="16.83" height="3.40" fill="#b5b5dc"/>
<rect x="58.87" y="159.46" width="16.83" height="3.40" fill="#b5b5dc"/>
<rect x="75.65" y="159.46" width="16.83" height="3.40" fill="#b5b5dc"/>
<rect x="92.43" y="159.46" width="16.83" height="3.40" fill="#f4f4fa"/>
<rect x="109.22" y="159.46" width="16.83" height="3.40" fill="#dfdff0"/>
<rect x="126.00" y="159.46" width="16.83" height="3.40" fill="#ffa0a0"/>
<rect x="142.78" y="159.46" width="16.83" height="3.40" fill="#b5b5dc"/>
<rect x="159.57" y="159.46" width="16.83" height="3.40" fill="#b5b5dc"/>
<rect x="176.35" y="159.46" width="16.83" height="3.40" fill="#ffa0a0"/>
<rect x="193.13" y="159.46" width="16.83" height="3.40" fill="#ff6565"/>
<rect x="209.92" y="159.46" width="16.83" height="3.40" fill="#ff8888"/>
<rect x="25.30" y="162.81" width="16.83" height="3.40" fill="#c0c0e1"/>
<rect x="42.08" y="162.81" width="16.83" height="3.40" fill="#6060b3"/>
<rect x="58.87" y="162.81" width="16.83" height="3.40" fill="#cacae6"/>
<rect x="75.65" y="162.81" width="16.83" height="3.40" fill="#7676bd"/>
<rect x="92.43" y="162.81" width="16.83" height="3.40" fill="#c0c0e1"/>
<rect x="109.22" y="162.81" width="16.83" height="3.40" fill="#ff8888"/>
<rect x="126.00" y="162.81" width="16.83" height="3.40" fill="#ffb8b8"/>
<rect x="142.78" y="162.81" width="16.83" height="3.40" fill="#f4f4fa"/>
<rect x="159.57" y="162.81" width="16.83" height="3.40" fill="#f4f4fa"/>
<rect x="176.35" y="162.81" width="16.83" height="3.40" fill="#ffacac"/>
<rect x="193.13" y="162.81" width="16.83" height="3.40" fill="#ff7171"/>
<rect x="209.92" y="162.81" width="16.83" height="3.40" fill="#ff9494"/>
<rect x="25.30" y="166.16" width="16.83" height="3.40" fill="#c0c0e1"/>
<rect x="42.08" y="166.16" width="16.83" height="3.40" fill="#b5b5dc"/>
<rect x="58.87" y="166.16" width="16.83" height="3.40" fill="#d5d5eb"/>
<rect x="75.65" y="166.16" width="16.83" height="3.40" fill="#b5b5dc"/>
<rect x="92.43" y="166.16" width="16.83" height="3.40" fill="#cacae6"/>
<rect x="109.22" y="166.16" width="16.83" height="3.40" fill="#cacae6"/>
<rect x="126.00" y="166.16" width="16.83" height="3.40" fill="#fff3f3"/>
<rect x="142.78" y="166.16" width="16.83" height="3.40" fill="#ff5959"/>
<rect x="159.57" y="166.16" width="16.83" height="3.40" fill="#ff7171"/>
<rect x="176.35" y="166.16" width="16.83" height="3.40" fill="#f4f4fa"/>
<rect x="193.13" y="166.16" width="16.83" height="3.40" fill="#fff3f3"/>
<rect x="209.92" y="166.16" width="16.83" height="3.40" fill="#ffa0a0"/>
<rect x="25.30" y="169.51" width="16.83" height="3.40" fill="#c0c0e1"/>
<rect x="42.08" y="169.51" width="16.83" height="3.40" fill="#b5b5dc"/>
<rect x="58.87" y="169.51" width="16.83" height="3.40" fill="#dfdff0"/>
<rect x="75.65" y="169.51" width="16.83" height="3.40" fill="#c0c0e1"/>
<rect x="92.43" y="169.51" width="16.83" height="3.40" fill="#d5d5eb"/>
<rect x="109.22" y="169.51" width="16.83" height="3.40" fill="#d5d5eb"/>
<rect x="126.00" y="169.51" width="16.83" height="3.40" fill="#fff3f3"/>
<rect x="142.78" y="169.51" width="16.83" height="3.40" fill="#ff3535"/>
<rect x="159.57" y="169.51" width="16.83" height="3.40" fill="#ff6565"/>
<rect x="176.35" y="169.51" width="16.83" height="3.40" fill="#d5d5eb"/>
<rect x="193.13" y="169.51" width="16.83" height="3.40" fill="#d5d5eb"/>
<rect x="209.92" y="169.51" width="16.83" height="3.40" fill="#eaeaf5"/>
<rect x="25.30" y="172.86" width="16.83" height="3.40" fill="#b5b5dc"/>
<rect x="42.08" y="172.86" width="16.83" height="3.40" fill="#b5b5dc"/>
<rect x="58.87" y="172.86" width="16.83" height="3.40" fill="#dfdff0"/>
<rect x="75.65" y="172.86" width="16.83" height="3.40" fill="#c0c0e1"/>
<rect x="92.43" y="172.86" width="16.83" height="3.40" fill="#d5d5eb"/>
<rect x="109.22" y="172.86" width="16.83" height="3.40" fill="#d5d5eb"/>
<rect x="126.00" y="172.86" width="16.83" height="3.40" fill="#ffdbdb"/>
<rect x="142.78" y="172.86" width="16.83" height="3.40" fill="#ff3535"/>
<rect x="159.57" y="172.86" width="16.83" height="3.40" fill="#ff5959"/>
<rect x="176.35" y="172.86" width="16.83" height="3.40" fill="#cacae6"/>
<rect x="193.13" y="172.86" width="16.83" height="3.40" fill="#cacae6"/>
<rect x="209.92" y="172.86" width="16.83" height="3.40" fill="#eaeaf5"/>
<rect x="25.30" y="176.20" width="16.83" height="3.40" fill="#a0a0d2"/>
<rect x="42.08" y="176.20" width="16.83" height="3.40" fill="#aaaad7"/>
<rect x="58.87" y="176.20" width="16.83" height="3.40" fill="#dfdff0"/>
<rect x="75.65" y="176.20" width="16.83" height="3.40" fill="#c0c0e1"/>
<rect x="92.43" y="176.20" width="16.83" height="3.40" fill="#d5d5eb"/>
<rect x="109.22" y="176.20" width="16.83" height="3.40" fill="#cacae6"/>
<rect x="126.00" y="176.20" width="16.83" height="3.40" fill="#ffb8b8"/>
<rect x="142.78" y="176.20" width="16.83" height="3.40" fill="#ff3535"/>
<rect x="159.57" y="176.20" width="16.83" height="3.40" fill="#ff5959"/>
<rect x="176.35" y="176.20" width="16.83" height="3.40" fill="#d5d5eb"/>
<rect x="193.13" y="176.20" width="16.83" height="3.40" fill="#d5d5eb"/>
<rect x="209.92" y="176.20" width="16.83" height="3.40" fill="#dfdff0"/>
<rect x="25.30" y="179.55" width="16.83" height="3.40" fill="#b5b5dc"/>
<rect x="42.08" y="179.55" width="16.83" height="3.40" fill="#b5b5dc"/>
<rect x="58.87" y="179.55" width="16.83" height="3.40" fill="#dfdff0"/>
<rect x="75.65" y="179.55" width="16.83" height="3.40" fill="#dfdff0"/>
<rect x="92.43" y="179.55" width="16.83" height="3.40" fill="#c0c0e1"/>
<rect x="109.22" y="179.55" width="16.83" height="3.40" fill="#c0c0e1"/>
<rect x="126.00" y="179.55" width="16.83" height="3.40" fill="#ffacac"/>
<rect x="142.78" y="179.55" width="16.83" height="3.40" fill="#ff4d4d"/>
<rect x="159.57" y="179.55" width="16.83" height="3.40" fill="#ff6565"/>
<rect x="176.35" y="179.55" width="16.83" height="3.40" fill="#dfdff0"/>
<rect x="193.13" y="179.55" width="16.83" height="3.40" fill="#dfdff0"/>
<rect x="209.92" y="179.55" width="16.83" height="3.40" fill="#dfdff0"/>
<rect x="25.30" y="182.90" width="16.83" height="3.40" fill="#a0a0d2"/>
<rect x="42.08" y="182.90" width="16.83" height="3.40" fill="#9595cd"/>
<rect x="58.87" y="182.90" width="16.83" height="3.40" fill="#b5b5dc"/>
<rect x="75.65" y="182.90" width="16.83" height="3.40" fill="#a0a0d2"/>
<rect x="92.43" y="182.90" width="16.83" height="3.40" fill="#a0a0d2"/>
<rect x="109.22" y="182.90" width="16.83" height="3.40" fill="#aaaad7"/>
<rect x="126.00" y="182.90" width="16.83" height="3.40" fill="#ff9494"/>
<rect x="142.78" y="182.90" width="16.83" height="3.40" fill="#ffe7e7"/>
<rect x="159.57" y="182.90" width="16.83" height="3.40" fill="#ff7171"/>
<rect x="176.35" y="182.90" width="16.83" height="3.40" fill="#ffd0d0"/>
<rect x="193.13" y="182.90" width="16.83" height="3.40" fill="#ffdbdb"/>
<rect x="209.92" y="182.90" width="16.83" height="3.40" fill="#ff8888"/>
<rect x="25.30" y="186.25" width="16.83" height="3.40" fill="#c0c0e1"/>
<rect x="42.08" y="186.25" width="16.83" height="3.40" fill="#a0a0d2"/>
<rect x="58.87" y="186.25" width="16.83" height="3.40" fill="#aaaad7"/>
<rect x="75.65" y="186.25" width="16.83" height="3.40" fill="#aaaad7"/>
<rect x="92.43" y="186.25" width="16.83" height="3.40" fill="#7676bd"/>
<rect x="109.22" y="186.25" width="16.83" height="3.40" fill="#a0a0d2"/>
<rect x="126.00" y="186.25" width="16.83" height="3.40" fill="#ff7d7d"/>
<rect x="142.78" y="186.25" width="16.83" height="3.40" fill="#ff9494"/>
<rect x="159.57" y="186.25" width="16.83" height="3.40" fill="#ff7d7d"/>
<rect x="176.35" y="186.25" width="16.83" height="3.40" fill="#ffc4c4"/>
<rect x="193.13" y="186.25" width="16.83" height="3.40" fill="#ffd0d0"/>
<rect x="209.92" y="186.25" width="16.83" height="3.40" fill="#ffb8b8"/>
<rect x="25.30" y="189.60" width="16.83" height="3.40" fill="#c0c0e1"/>
<rect x="42.08" y="189.60" width="16.83" height="3.40" fill="#aaaad7"/>
<rect x="58.87" y="189.60" width="16.83" height="3.40" fill="#a0a0d2"/>
<rect x="75.65" y="189.60" width="16.83" height="3.40" fill="#b5b5dc"/>
<rect x="92.43" y="189.60" width="16.83" height="3.40" fill="#9595cd"/>
<rect x="109.22" y="189.60" width="16.83" height="3.40" fill="#a0a0d2"/>
<rect x="126.00" y="189.60" width="16.83" height="3.40" fill="#ff5959"/>
<rect x="142.78" y="189.60" width="16.83" height="3.40" fill="#ff9494"/>
<rect x="159.57" y="189.60" width="16.83" height="3.40" fill="#ff7d7d"/>
<rect x="176.35" y="189.60" width="16.83" height="3.40" fill="#ffb8b8"/>
<rect x="193.13" y="189.60" width="16.83" height="3.40" fill="#fffafa"/>
<rect x="209.92" y="189.60" width="16.83" height="3.40" fill="#ffc4c4"/>
<rect x="25.30" y="192.94" width="16.83" height="3.40" fill="#b5b5dc"/>
<rect x="42.08" y="192.94" width="16.83" height="3.40" fill="#aaaad7"/>
<rect x="58.87" y="192.94" width="16.83" height="3.40" fill="#a0a0d2"/>
<rect x="75.65" y="192.94" width="16.83" height="3.40" fill="#aaaad7"/>
<rect x="92.43" y="192.94" width="16.83" height="3.40" fill="#8b8bc8"/>
<rect x="109.22" y="192.94" width="16.83" height="3.40" fill="#b5b5dc"/>
<rect x="126.00" y="192.94" width="16.83" height="3.40" fill="#ffa0a0"/>
<rect x="142.78" y="192.94" width="16.83" height="3.40" fill="#ffacac"/>
<rect x="159.57" y="192.94" width="16.83" height="3.40" fill="#ff9494"/>
<rect x="176.35" y="192.94" width="16.83" height="3.40" fill="#ff8888"/>
<rect x="193.13" y="192.94" width="16.83" height="3.40" fill="#ff8888"/>
<rect x="209.92" y="192.94" width="16.83" height="3.40" fill="#ffb8b8"/>
<rect x="25.30" y="196.29" width="16.83" height="3.40" fill="#8b8bc8"/>
<rect x="42.08" y="196.29" width="16.83" height="3.40" fill="#8b8bc8"/>
<rect x="58.87" y="196.29" width="16.83" height="3.40" fill="#a0a0d2"/>
<rect x="75.65" y="196.29" width="16.83" height="3.40" fill="#b5b5dc"/>
<rect x="92.43" y="196.29" width="16.83" height="3.40" fill="#a0a0d2"/>
<rect x="109.22" y="196.29" width="16.83" height="3.40" fill="#d5d5eb"/>
<rect x="126.00" y="196.29" width="16.83" height="3.40" fill="#ff9494"/>
<rect x="142.78" y="196.29" width="16.83" height="3.40" fill="#ff7d7d"/>
<rect x="159.57" y="196.29" width="16.83" height="3.40" fill="#ff9494"/>
<rect x="176.35" y="196.29" width="16.83" height="3.40" fill="#ff9494"/>
<rect x="193.13" y="196.29" width="16.83" height="3.40" fill="#ffa0a0"/>
<rect x="209.92" y="196.29" width="16.83" height="3.40" fill="#ffa0a0"/>
<rect x="25.30" y="199.64" width="16.83" height="3.40" fill="#aaaad7"/>
<rect x="42.08" y="199.64" width="16.83" height="3.40" fill="#aaaad7"/>
<rect x="58.87" y="199.64" width="16.83" height="3.40" fill="#a0a0d2"/>
<rect x="75.65" y="199.64" width="16.83" height="3.40" fill="#cacae6"/>
<rect x="92.43" y="199.64" width="16.83" height="3.40" fill="#9595cd"/>
<rect x="109.22" y="199.64" width="16.83" height="3.40" fill="#aaaad7"/>
<rect x="126.00" y="199.64" width="16.83" height="3.40" fill="#ff8888"/>
<rect x="142.78" y="199.64" width="16.83" height="3.40" fill="#ff9494"/>
<rect x="159.57" y="199.64" width="16.83" height="3.40" fill="#ff7d7d"/>
<rect x="176.35" y="199.64" width="16.83" height="3.40" fill="#ffa0a0"/>
<rect x="193.13" y="199.64" width="16.83" height="3.40" fill="#ffacac"/>
<rect x="209.92" y="199.64" width="16.83" height="3.40" fill="#ffa0a0"/>
<rect x="25.30" y="202.99" width="16.83" height="3.40" fill="#aaaad7"/>
<rect x="42.08" y="202.99" width="16.83" height="3.40" fill="#b5b5dc"/>
<rect x="58.87" y="202.99" width="16.83" height="3.40" fill="#a0a0d2"/>
<rect x="75.65" y="202.99" width="16.83" height="3.40" fill="#aaaad7"/>
<rect x="92.43" y="202.99" width="16.83" height="3.40" fill="#9595cd"/>
<rect x="109.22" y="202.99" width="16.83" height="3.40" fill="#a0a0d2"/>
<rect x="126.00" y="202.99" width="16.83" height="3.40" fill="#ff7d7d"/>
<rect x="142.78" y="202.99" width="16.83" height="3.40" fill="#ff9494"/>
<rect x="159.57" y="202.99" width="16.83" height="3.40" fill="#ff8888"/>
<rect x="176.35" y="202.99" width="16.83" height="3.40" fill="#ffa0a0"/>
<rect x="193.13" y="202.99" width="16.83" height="3.40" fill="#ffacac"/>
<rect x="209.92" y="202.99" width="16.83" height="3.40" fill="#ffb8b8"/>
<rect x="25.30" y="206.34" width="16.83" height="3.40" fill="#9595cd"/>
<rect x="42.08" y="206.34" width="16.83" height="3.40" fill="#9595cd"/>
<rect x="58.87" y="206.34" width="16.83" height="3.40" fill="#9595cd"/>
<rect x="75.65" y="206.34" width="16.83" height="3.40" fill="#fff3f3"/>
<rect x="92.43" y="206.34" width="16.83" height="3.40" fill="#9595cd"/>
<rect x="109.22" y="206.34" width="16.83" height="3.40" fill="#9595cd"/>
<rect x="126.00" y="206.34" width="16.83" height="3.40" fill="#ff8888"/>
<rect x="142.78" y="206.34" width="16.83" height="3.40" fill="#ff8888"/>
<rect x="159.57" y="206.34" width="16.83" height="3.40" fill="#ff9494"/>
<rect x="176.35" y="206.34" width="16.83" height="3.40" fill="#ff9494"/>
<rect x="193.13" y="206.34" width="16.83" height="3.40" fill="#ff9494"/>
<rect x="209.92" y="206.34" width="16.83" height="3.40" fill="#ffc4c4"/>
<rect x="25.30" y="209.68" width="16.83" height="3.40" fill="#d5d5eb"/>
<rect x="42.08" y="209.68" width="16.83" height="3.40" fill="#a0a0d2"/>
<rect x="58.87" y="209.68" width="16.83" height="3.40" fill="#9595cd"/>
<rect x="75.65" y="209.68" width="16.83" height="3.40" fill="#ffa0a0"/>
<rect x="92.43" y="209.68" width="16.83" height="3.40" fill="#dfdff0"/>
<rect x="109.22" y="209.68" width="16.83" height="3.40" fill="#14148f"/>
<rect x="126.00" y="209.68" width="16.83" height="3.40" fill="#ff9494"/>
<rect x="142.78" y="209.68" width="16.83" height="3.40" fill="#ff7171"/>
<rect x="159.57" y="209.68" width="16.83" height="3.40" fill="#ff9494"/>
<rect x="176.35" y="209.68" width="16.83" height="3.40" fill="#fff3f3"/>
<rect x="193.13" y="209.68" width="16.83" height="3.40" fill="#ffb8b8"/>
<rect x="209.92" y="209.68" width="16.83" height="3.40" fill="#ffb8b8"/>
<rect x="25.30" y="213.03" width="16.83" height="3.40" fill="#9595cd"/>
<rect x="42.08" y="213.03" width="16.83" height="3.40" fill="#8b8bc8"/>
<rect x="58.87" y="213.03" width="16.83" height="3.40" fill="#c0c0e1"/>
<rect x="75.65" y="213.03" width="16.83" height="3.40" fill="#b5b5dc"/>
<rect x="92.43" y="213.03" width="16.83" height="3.40" fill="#a0a0d2"/>
<rect x="109.22" y="213.03" width="16.83" height="3.40" fill="#fbfbfd"/>
<rect x="126.00" y="213.03" width="16.83" height="3.40" fill="#ff6565"/>
<rect x="142.78" y="213.03" width="16.83" height="3.40" fill="#ff8888"/>
<rect x="159.57" y="213.03" width="16.83" height="3.40" fill="#fff3f3"/>
<rect x="176.35" y="213.03" width="16.83" height="3.40" fill="#ff9494"/>
<rect x="193.13" y="213.03" width="16.83" height="3.40" fill="#ff9494"/>
<rect x="209.92" y="213.03" width="16.83" height="3.40" fill="#ffacac"/>
<rect x="25.30" y="216.38" width="16.83" height="3.40" fill="#5656ae"/>
<rect x="42.08" y="216.38" width="16.83" height="3.40" fill="#c0c0e1"/>
<rect x="58.87" y="216.38" width="16.83" height="3.40" fill="#fbfbfd"/>
<rect x="75.65" y="216.38" width="16.83" height="3.40" fill="#dfdff0"/>
<rect x="92.43" y="216.38" width="16.83" height="3.40" fill="#a0a0d2"/>
<rect x="109.22" y="216.38" width="16.83" height="3.40" fill="#a0a0d2"/>
<rect x="126.00" y="216.38" width="16.83" height="3.40" fill="#ff4d4d"/>
<rect x="142.78" y="216.38" width="16.83" height="3.40" fill="#ffffff"/>
<rect x="159.57" y="216.38" width="16.83" height="3.40" fill="#eaeaf5"/>
<rect x="176.35" y="216.38" width="16.83" height="3.40" fill="#ffacac"/>
<rect x="193.13" y="216.38" width="16.83" height="3.40" fill="#ff8888"/>
<rect x="209.92" y="216.38" width="16.83" height="3.40" fill="#ffb8b8"/>
<rect x="25.30" y="219.73" width="16.83" height="3.40" fill="#c0c0e1"/>
<rect x="42.08" y="219.73" width="16.83" height="3.40" fill="#b5b5dc"/>
<rect x="58.87" y="219.73" width="16.83" height="3.40" fill="#a0a0d2"/>
<rect x="75.65" y="219.73" width="16.83" height="3.40" fill="#aaaad7"/>
<rect x="92.43" y="219.73" width="16.83" height="3.40" fill="#9595cd"/>
<rect x="109.22" y="219.73" width="16.83" height="3.40" fill="#a0a0d2"/>
<rect x="126.00" y="219.73" width="16.83" height="3.40" fill="#ff6565"/>
<rect x="142.78" y="219.73" width="16.83" height="3.40" fill="#ffe7e7"/>
<rect x="159.57" y="219.73" width="16.83" height="3.40" fill="#fff3f3"/>
<rect x="176.35" y="219.73" width="16.83" height="3.40" fill="#ffb8b8"/>
<rect x="193.13" y="219.73" width="16.83" height="3.40" fill="#ff5959"/>
<rect x="209.92" y="219.73" width="16.83" height="3.40" fill="#ff9494"/>
<rect x="25.30" y="223.08" width="16.83" height="3.40" fill="#aaaad7"/>
<rect x="42.08" y="223.08" width="16.83" height="3.40" fill="#aaaad7"/>
<rect x="58.87" y="223.08" width="16.83" height="3.40" fill="#9595cd"/>
<rect x="75.65" y="223.08" width="16.83" height="3.40" fill="#a0a0d2"/>
<rect x="92.43" y="223.08" width="16.83" height="3.40" fill="#a0a0d2"/>
<rect x="109.22" y="223.08" width="16.83" height="3.40" fill="#a0a0d2"/>
<rect x="126.00" y="223.08" width="16.83" height="3.40" fill="#ff7171"/>
<rect x="142.78" y="223.08" width="16.83" height="3.40" fill="#ffdbdb"/>
<rect x="159.57" y="223.08" width="16.83" height="3.40" fill="#ffdbdb"/>
<rect x="176.35" y="223.08" width="16.83" height="3.40" fill="#ffacac"/>
<rect x="193.13" y="223.08" width="16.83" height="3.40" fill="#ffacac"/>
<rect x="209.92" y="223.08" width="16.83" height="3.40" fill="#ff7d7d"/>
<rect x="25.30" y="226.42" width="16.83" height="3.40" fill="#c0c0e1"/>
<rect x="42.08" y="226.42" width="16.83" height="3.40" fill="#b5b5dc"/>
<rect x="58.87" y="226.42" width="16.83" height="3.40" fill="#9595cd"/>
<rect x="75.65" y="226.42" width="16.83" height="3.40" fill="#d5d5eb"/>
<rect x="92.43" y="226.42" width="16.83" height="3.40" fill="#9595cd"/>
<rect x="109.22" y="226.42" width="16.83" height="3.40" fill="#a0a0d2"/>
<rect x="126.00" y="226.42" width="16.83" height="3.40" fill="#ff4141"/>
<rect x="142.78" y="226.42" width="16.83" height="3.40" fill="#ffdbdb"/>
<rect x="159.57" y="226.42" width="16.83" height="3.40" fill="#ffd0d0"/>
<rect x="176.35" y="226.42" width="16.83" height="3.40" fill="#ffacac"/>
<rect x="193.13" y="226.42" width="16.83" height="3.40" fill="#ffb8b8"/>
<rect x="209.92" y="226.42" width="16.83" height="3.40" fill="#ffacac"/>
<rect x="25.30" y="229.77" width="16.83" height="3.40" fill="#b5b5dc"/>
<rect x="42.08" y="229.77" width="16.83" height="3.40" fill="#aaaad7"/>
<rect x="58.87" y="229.77" width="16.83" height="3.40" fill="#9595cd"/>
<rect x="75.65" y="229.77" width="16.83" height="3.40" fill="#c0c0e1"/>
<rect x="92.43" y="229.77" width="16.83" height="3.40" fill="#9595cd"/>
<rect x="109.22" y="229.77" width="16.83" height="3.40" fill="#a0a0d2"/>
<rect x="126.00" y="229.77" width="16.83" height="3.40" fill="#ff3535"/>
<rect x="142.78" y="229.77" width="16.83" height="3.40" fill="#ffd0d0"/>
<rect x="159.57" y="229.77" width="16.83" height="3.40" fill="#ffd0d0"/>
<rect x="176.35" y="229.77" width="16.83" height="3.40" fill="#ffb8b8"/>
<rect x="193.13" y="229.77" width="16.83" height="3.40" fill="#ffb8b8"/>
<rect x="209.92" y="229.77" width="16.83" height="3.40" fill="#ffb8b8"/>
<rect x="25.30" y="233.12" width="16.83" height="3.40" fill="#b5b5dc"/>
<rect x="42.08" y="233.12" width="16.83" height="3.40" fill="#b5b5dc"/>
<rect x="58.87" y="233.12" width="16.83" height="3.40" fill="#aaaad7"/>
<rect x="75.65" y="233.12" width="16.83" height="3.40" fill="#c0c0e1"/>
<rect x="92.43" y="233.12" width="16.83" height="3.40" fill="#a0a0d2"/>
<rect x="109.22" y="233.12" width="16.83" height="3.40" fill="#9595cd"/>
<rect x="126.00" y="233.12" width="16.83" height="3.40" fill="#ff4141"/>
<rect x="142.78" y="233.12" width="16.83" height="3.40" fill="#ffdbdb"/>
<rect x="159.57" y="233.12" width="16.83" height="3.40" fill="#fff3f3"/>
<rect x="176.35" y="233.12" width="16.83" height="3.40" fill="#ff9494"/>
<rect x="193.13" y="233.12" width="16.83" height="3.40" fill="#ffa0a0"/>
<rect x="209.92" y="233.12" width="16.83" height="3.40" fill="#ffb8b8"/>
<rect x="25.30" y="236.47" width="16.83" height="3.40" fill="#aaaad7"/>
<rect x="42.08" y="236.47" width="16.83" height="3.40" fill="#aaaad7"/>
<rect x="58.87" y="236.47" width="16.83" height="3.40" fill="#a0a0d2"/>
<rect x="75.65" y="236.47" width="16.83" height="3.40" fill="#c0c0e1"/>
<rect x="92.43" y="236.47" width="16.83" height="3.40" fill="#a0a0d2"/>
<rect x="109.22" y="236.47" width="16.83" height="3.40" fill="#9595cd"/>
<rect x="126.00" y="236.47" width="16.83" height="3.40" fill="#ff4141"/>
<rect x="142.78" y="236.47" width="16.83" height="3.40" fill="#ffdbdb"/>
<rect x="159.57" y="236.47" width="16.83" height="3.40" fill="#ffb8b8"/>
<rect x="176.35" y="236.47" width="16.83" height="3.40" fill="#ff8888"/>
<rect x="193.13" y="236.47" width="16.83" height="3.40" fill="#ff9494"/>
<rect x="209.92" y="236.47" width="16.83" height="3.40" fill="#ffb8b8"/>
<rect x="25.30" y="239.82" width="16.83" height="3.40" fill="#aaaad7"/>
<rect x="42.08" y="239.82" width="16.83" height="3.40" fill="#aaaad7"/>
<rect x="58.87" y="239.82" width="16.83" height="3.40" fill="#a0a0d2"/>
<rect x="75.65" y="239.82" width="16.83" height="3.40" fill="#c0c0e1"/>
<rect x="92.43" y="239.82" width="16.83" height="3.40" fill="#a0a0d2"/>
<rect x="109.22" y="239.82" width="16.83" height="3.40" fill="#9595cd"/>
<rect x="126.00" y="239.82" width="16.83" height="3.40" fill="#ff4141"/>
<rect x="142.78" y="239.82" width="16.83" height="3.40" fill="#ffe7e7"/>
<rect x="159.57" y="239.82" width="16.83" height="3.40" fill="#ffb8b8"/>
<rect x="176.35" y="239.82" width="16.83" height="3.40" fill="#ff8888"/>
<rect x="193.13" y="239.82" width="16.83" height="3.40" fill="#ffa0a0"/>
<rect x="209.92" y="239.82" width="16.83" height="3.40" fill="#ffb8b8"/>
<rect x="25.30" y="243.16" width="16.83" height="3.40" fill="#6060b3"/>
<rect x="42.08" y="243.16" width="16.83" height="3.40" fill="#6060b3"/>
<rect x="58.87" y="243.16" width="16.83" height="3.40" fill="#eeeef7"/>
<rect x="75.65" y="243.16" width="16.83" height="3.40" fill="#b5b5dc"/>
<rect x="92.43" y="243.16" width="16.83" height="3.40" fill="#ffe7e7"/>
<rect x="109.22" y="243.16" width="16.83" height="3.40" fill="#6060b3"/>
<rect x="126.00" y="243.16" width="16.83" height="3.40" fill="#ffd0d0"/>
<rect x="142.78" y="243.16" width="16.83" height="3.40" fill="#ffa0a0"/>
<rect x="159.57" y="243.16" width="16.83" height="3.40" fill="#ffacac"/>
<rect x="176.35" y="243.16" width="16.83" height="3.40" fill="#ff8888"/>
<rect x="193.13" y="243.16" width="16.83" height="3.40" fill="#ffc4c4"/>
<rect x="209.92" y="243.16" width="16.83" height="3.40" fill="#ff7d7d"/>
<rect x="25.30" y="246.51" width="16.83" height="3.40" fill="#eaeaf5"/>
<rect x="42.08" y="246.51" width="16.83" height="3.40" fill="#c0c0e1"/>
<rect x="58.87" y="246.51" width="16.83" height="3.40" fill="#aaaad7"/>
<rect x="75.65" y="246.51" width="16.83" height="3.40" fill="#a0a0d2"/>
<rect x="92.43" y="246.51" width="16.83" height="3.40" fill="#8080c3"/>
<rect x="109.22" y="246.51" width="16.83" height="3.40" fill="#a0a0d2"/>
<rect x="126.00" y="246.51" width="16.83" height="3.40" fill="#ffb8b8"/>
<rect x="142.78" y="246.51" width="16.83" height="3.40" fill="#ffb8b8"/>
<rect x="159.57" y="246.51" width="16.83" height="3.40" fill="#ffacac"/>
<rect x="176.35" y="246.51" width="16.83" height="3.40" fill="#ff8888"/>
<rect x="193.13" y="246.51" width="16.83" height="3.40" fill="#ffc4c4"/>
<rect x="209.92" y="246.51" width="16.83" height="3.40" fill="#ff7d7d"/>
<rect x="25.30" y="249.86" width="16.83" height="3.40" fill="#c0c0e1"/>
<rect x="42.08" y="249.86" width="16.83" height="3.40" fill="#b5b5dc"/>
<rect x="58.87" y="249.86" width="16.83" height="3.40" fill="#aaaad7"/>
<rect x="75.65" y="249.86" width="16.83" height="3.40" fill="#a0a0d2"/>
<rect x="92.43" y="249.86" width="16.83" height="3.40" fill="#8080c3"/>
<rect x="109.22" y="249.86" width="16.83" height="3.40" fill="#b5b5dc"/>
<rect x="126.00" y="249.86" width="16.83" height="3.40" fill="#ffdbdb"/>
<rect x="142.78" y="249.86" width="16.83" height="3.40" fill="#ffc4c4"/>
<rect x="159.57" y="249.86" width="16.83" height="3.40" fill="#ffacac"/>
<rect x="176.35" y="249.86" width="16.83" height="3.40" fill="#ff9494"/>
<rect x="193.13" y="249.86" width="16.83" height="3.40" fill="#ffa0a0"/>
<rect x="209.92" y="249.86" width="16.83" height="3.40" fill="#ff9494"/>
<rect x="25.30" y="253.21" width="16.83" height="3.40" fill="#b5b5dc"/>
<rect x="42.08" y="253.21" width="16.83" height="3.40" fill="#8b8bc8"/>
<rect x="58.87" y="253.21" width="16.83" height="3.40" fill="#a0a0d2"/>
<rect x="75.65" y="253.21" width="16.83" height="3.40" fill="#b5b5dc"/>
<rect x="92.43" y="253.21" width="16.83" height="3.40" fill="#8080c3"/>
<rect x="109.22" y="253.21" width="16.83" height="3.40" fill="#c0c0e1"/>
<rect x="126.00" y="253.21" width="16.83" height="3.40" fill="#ffb8b8"/>
<rect x="142.78" y="253.21" width="16.83" height="3.40" fill="#ff9494"/>
<rect x="159.57" y="253.21" width="16.83" height="3.40" fill="#ff9494"/>
<rect x="176.35" y="253.21" width="16.83" height="3.40" fill="#ffacac"/>
<rect x="193.13" y="253.21" width="16.83" height="3.40" fill="#ffacac"/>
<rect x="209.92" y="253.21" width="16.83" height="3.40" fill="#ffacac"/>
<rect x="25.30" y="256.56" width="16.83" height="3.40" fill="#aaaad7"/>
<rect x="42.08" y="256.56" width="16.83" height="3.40" fill="#aaaad7"/>
<rect x="58.87" y="256.56" width="16.83" height="3.40" fill="#a0a0d2"/>
<rect x="75.65" y="256.56" width="16.83" height="3.40" fill="#c0c0e1"/>
<rect x="92.43" y="256.56" width="16.83" height="3.40" fill="#8b8bc8"/>
<rect x="109.22" y="256.56" width="16.83" height="3.40" fill="#a0a0d2"/>
<rect x="126.00" y="256.56" width="16.83" height="3.40" fill="#ffacac"/>
<rect x="142.78" y="256.56" width="16.83" height="3.40" fill="#ffc4c4"/>
<rect x="159.57" y="256.56" width="16.83" height="3.40" fill="#ffacac"/>
<rect x="176.35" y="256.56" width="16.83" height="3.40" fill="#ff7d7d"/>
<rect x="193.13" y="256.56" width="16.83" height="3.40" fill="#ffacac"/>
<rect x="209.92" y="256.56" width="16.83" height="3.40" fill="#ffa0a0"/>
<rect x="25.30" y="259.90" width="16.83" height="3.40" fill="#aaaad7"/>
<rect x="42.08" y="259.90" width="16.83" height="3.40" fill="#a0a0d2"/>
<rect x="58.87" y="259.90" width="16.83" height="3.40" fill="#a0a0d2"/>
<rect x="75.65" y="259.90" width="16.83" height="3.40" fill="#aaaad7"/>
<rect x="92.43" y="259.90" width="16.83" height="3.40" fill="#9595cd"/>
<rect x="109.22" y="259.90" width="16.83" height="3.40" fill="#c0c0e1"/>
<rect x="126.00" y="259.90" width="16.83" height="3.40" fill="#ffa0a0"/>
<rect x="142.78" y="259.90" width="16.83" height="3.40" fill="#ffb8b8"/>
<rect x="159.57" y="259.90" width="16.83" height="3.40" fill="#ffacac"/>
<rect x="176.35" y="259.90" width="16.83" height="3.40" fill="#ffa0a0"/>
<rect x="193.13" y="259.90" width="16.83" height="3.40" fill="#ffa0a0"/>
<rect x="209.92" y="259.90" width="16.83" height="3.40" fill="#ffa0a0"/>
<rect x="25.30" y="263.25" width="16.83" height="3.40" fill="#b5b5dc"/>
<rect x="42.08" y="263.25" width="16.83" height="3.40" fill="#9595cd"/>
<rect x="58.87" y="263.25" width="16.83" height="3.40" fill="#a0a0d2"/>
<rect x="75.65" y="263.25" width="16.83" height="3.40" fill="#b5b5dc"/>
<rect x="92.43" y="263.25" width="16.83" height="3.40" fill="#9595cd"/>
<rect x="109.22" y="263.25" width="16.83" height="3.40" fill="#a0a0d2"/>
<rect x="126.00" y="263.25" width="16.83" height="3.40" fill="#ffa0a0"/>
<rect x="142.78" y="263.25" width="16.83" height="3.40" fill="#ffb8b8"/>
<rect x="159.57" y="263.25" width="16.83" height="3.40" fill="#ffacac"/>
<rect x="176.35" y="263.25" width="16.83" height="3.40" fill="#ffa0a0"/>
<rect x="193.13" y="263.25" width="16.83" height="3.40" fill="#ffacac"/>
<rect x="209.92" y="263.25" width="16.83" height="3.40" fill="#ff9494"/>
</g></g>
<g fill="none" stroke="#666" stroke-width="0.6">
<path d="M12.30,62.59H6.00V156.91H10.30"/>
<path d="M14.30,34.66H12.30V90.52H14.30"/>
<path d="M25.30,17.17H14.30V52.14H15.60"/>
<path d="M17.80,31.87H15.60V72.42H16.50"/>
<path d="M25.30,20.52H17.80V43.23H18.06"/>
<path d="M18.06,33.29H18.06V53.17H18.87"/>
<path d="M19.56,26.80H18.06V39.77H20.28"/>
<path d="M25.30,23.87H19.56V29.73H20.42"/>
<path d="M25.30,27.22H20.42V32.24H21.66"/>
<path d="M25.30,30.57H21.66V33.91H25.30"/>
<path d="M25.30,37.26H20.28V42.28H21.66"/>
<path d="M25.30,40.61H21.66V43.96H25.30"/>
<path d="M25.30,47.31H18.87V59.02H22.13"/>
<path d="M23.29,53.17H22.13V64.88H22.81"/>
<path d="M25.30,50.65H23.29V55.68H23.64"/>
<path d="M25.30,54.00H23.64V57.35H25.30"/>
<path d="M23.11,62.37H22.81V67.39H25.30"/>
<path d="M25.30,60.70H23.11V64.05H25.30"/>
<path d="M25.30,70.74H16.50V74.09H25.30"/>
<path d="M16.50,81.83H14.30V99.20H19.10"/>
<path d="M25.30,77.44H16.50V86.23H20.73"/>
<path d="M21.69,82.46H20.73V89.99H20.73"/>
<path d="M25.30,80.79H21.69V84.13H25.30"/>
<path d="M25.30,87.48H20.73V92.50H22.65"/>
<path d="M25.30,90.83H22.65V94.18H25.30"/>
<path d="M25.30,97.53H19.10V100.87H25.30"/>
<path d="M15.50,118.11H10.30V195.70H12.30"/>
<path d="M25.30,104.22H15.50V132.01H17.30"/>
<path d="M19.50,109.24H17.30V154.77H19.50"/>
<path d="M25.30,107.57H19.50V110.92H25.30"/>
<path d="M21.02,145.05H19.50V164.49H25.30"/>
<path d="M21.46,128.97H21.02V161.14H25.30"/>
<path d="M23.78,115.94H21.46V141.99H22.56"/>
<path d="M25.30,114.27H23.78V117.61H25.30"/>
<path d="M23.17,133.31H22.56V150.68H22.56"/>
<path d="M23.96,126.40H23.17V140.21H23.17"/>
<path d="M24.35,122.64H23.96V130.17H24.14"/>
<path d="M25.30,120.96H24.35V124.31H25.30"/>
<path d="M25.30,127.66H24.14V132.68H24.30"/>
<path d="M25.30,131.01H24.30V134.35H25.30"/>
<path d="M25.30,137.70H23.17V142.72H24.35"/>
<path d="M25.30,141.05H24.35V144.40H25.30"/>
<path d="M25.30,147.75H22.56V153.61H23.43"/>
<path d="M25.30,151.09H23.43V156.12H24.14"/>
<path d="M25.30,154.44H24.14V157.79H25.30"/>
<path d="M20.00,173.07H12.30V218.34H16.80"/>
<path d="M25.30,167.83H20.00V178.30H22.60"/>
<path d="M23.02,175.37H22.60V181.23H25.30"/>
<path d="M23.96,172.86H23.02V177.88H25.30"/>
<path d="M25.30,171.18H23.96V174.53H25.30"/>
<path d="M18.00,201.63H16.80V235.06H17.30"/>
<path d="M20.20,191.69H18.00V211.57H20.20"/>
<path d="M20.20,187.09H20.20V196.29H21.25"/>
<path d="M25.30,184.57H20.20V189.60H22.20"/>
<path d="M25.30,187.92H22.20V191.27H25.30"/>
<path d="M25.30,194.62H21.25V197.97H25.30"/>
<path d="M20.20,208.43H20.20V214.71H25.30"/>
<path d="M22.81,205.50H20.20V211.36H25.30"/>
<path d="M24.07,202.99H22.81V208.01H25.30"/>
<path d="M25.30,201.31H24.07V204.66H25.30"/>
<path d="M19.50,221.98H17.30V248.13H19.20"/>
<path d="M25.30,218.05H19.50V225.90H21.68"/>
<path d="M25.30,221.40H21.68V230.40H22.10"/>
<path d="M25.30,224.75H22.10V236.05H23.01"/>
<path d="M23.01,232.28H23.01V239.82H24.60"/>
<path d="M23.85,229.77H23.01V234.79H25.30"/>
<path d="M25.30,228.10H23.85V231.45H25.30"/>
<path d="M25.30,238.14H24.60V241.49H25.30"/>
<path d="M25.30,244.84H19.20V251.43H21.40"/>
<path d="M25.30,248.19H21.40V254.67H22.11"/>
<path d="M25.30,251.53H22.11V257.81H22.21"/>
<path d="M25.30,254.88H22.21V260.74H22.93"/>
<path d="M25.30,258.23H22.93V263.25H23.25"/>
<path d="M25.30,261.58H23.25V264.93H25.30"/>
</g>
<text x="0" y="0" font-family="'Liberation Sans', Arial, sans-serif" font-size="7.4" fill="#333" stroke="#333" stroke-width="0.3" text-anchor="middle" transform="translate(33.69,275.60) skewY(0.05) scale(0.8300,1.0000)">SF1</text>
<text x="0" y="0" font-family="'Liberation Sans', Arial, sans-serif" font-size="7.4" fill="#333" stroke="#333" stroke-width="0.3" text-anchor="middle" transform="translate(50.47,275.60) skewY(0.05) scale(0.8300,1.0000)">SF2</text>
<text x="0" y="0" font-family="'Liberation Sans', Arial, sans-serif" font-size="7.4" fill="#333" stroke="#333" stroke-width="0.3" text-anchor="middle" transform="translate(67.26,275.60) skewY(0.05) scale(0.8300,1.0000)">SF3</text>
<text x="0" y="0" font-family="'Liberation Sans', Arial, sans-serif" font-size="7.4" fill="#333" stroke="#333" stroke-width="0.3" text-anchor="middle" transform="translate(84.04,275.60) skewY(0.05) scale(0.8300,1.0000)">SF4</text>
<text x="0" y="0" font-family="'Liberation Sans', Arial, sans-serif" font-size="7.4" fill="#333" stroke="#333" stroke-width="0.3" text-anchor="middle" transform="translate(100.82,275.60) skewY(0.05) scale(0.8300,1.0000)">SF5</text>
<text x="0" y="0" font-family="'Liberation Sans', Arial, sans-serif" font-size="7.4" fill="#333" stroke="#333" stroke-width="0.3" text-anchor="middle" transform="translate(117.61,275.60) skewY(0.05) scale(0.8300,1.0000)">SF6</text>
<text x="0" y="0" font-family="'Liberation Sans', Arial, sans-serif" font-size="7.4" fill="#333" stroke="#333" stroke-width="0.3" text-anchor="middle" transform="translate(134.39,275.60) skewY(0.05) scale(0.8300,1.0000)">GF1</text>
<text x="0" y="0" font-family="'Liberation Sans', Arial, sans-serif" font-size="7.4" fill="#333" stroke="#333" stroke-width="0.3" text-anchor="middle" transform="translate(151.17,275.60) skewY(0.05) scale(0.8300,1.0000)">GF2</text>
<text x="0" y="0" font-family="'Liberation Sans', Arial, sans-serif" font-size="7.4" fill="#333" stroke="#333" stroke-width="0.3" text-anchor="middle" transform="translate(167.96,275.60) skewY(0.05) scale(0.8300,1.0000)">GF3</text>
<text x="0" y="0" font-family="'Liberation Sans', Arial, sans-serif" font-size="7.4" fill="#333" stroke="#333" stroke-width="0.3" text-anchor="middle" transform="translate(184.74,275.60) skewY(0.05) scale(0.8300,1.0000)">GF4</text>
<text x="0" y="0" font-family="'Liberation Sans', Arial, sans-serif" font-size="7.4" fill="#333" stroke="#333" stroke-width="0.3" text-anchor="middle" transform="translate(201.52,275.60) skewY(0.05) scale(0.8300,1.0000)">GF5</text>
<text x="0" y="0" font-family="'Liberation Sans', Arial, sans-serif" font-size="7.4" fill="#333" stroke="#333" stroke-width="0.3" text-anchor="middle" transform="translate(218.31,275.60) skewY(0.05) scale(0.8300,1.0000)">GF6</text>
<text x="0" y="0" font-family="'Liberation Sans', Arial, sans-serif" font-size="4.3" fill="#000" font-weight="bold" transform="translate(228.10,14.20) skewY(0.05) scale(0.9000,1.0000)">Class</text>
<text x="0" y="0" font-family="'Liberation Sans', Arial, sans-serif" font-size="2.9" fill="#222" stroke="#222" stroke-width="0.05" transform="translate(228.30,18.22) skewY(0.05) scale(0.8450,1.0000)">TG(14:0/16:0/18:1)</text>
<text x="0" y="0" font-family="'Liberation Sans', Arial, sans-serif" font-size="2.9" fill="#222" stroke="#222" stroke-width="0.05" transform="translate(228.30,21.57) skewY(0.05) scale(0.8450,1.0000)">dMePE(16:0p/20:4)</text>
<text x="0" y="0" font-family="'Liberation Sans', Arial, sans-serif" font-size="2.9" fill="#222" stroke="#222" stroke-width="0.05" transform="translate(228.30,24.92) skewY(0.05) scale(0.8450,1.0000)">TG(16:0/16:1/18:1)</text>
<text x="0" y="0" font-family="'Liberation Sans', Arial, sans-serif" font-size="2.9" fill="#222" stroke="#222" stroke-width="0.05" transform="translate(228.30,28.27) skewY(0.05) scale(0.8450,1.0000)">TG(14:0/14:0/18:1)</text>
<text x="0" y="0" font-family="'Liberation Sans', Arial, sans-serif" font-size="2.9" fill="#222" stroke="#222" stroke-width="0.05" transform="translate(228.30,31.62) skewY(0.05) scale(0.8450,1.0000)">TG(16:0/16:1/18:1)</text>
<text x="0" y="0" font-family="'Liberation Sans', Arial, sans-serif" font-size="2.9" fill="#222" stroke="#222" stroke-width="0.05" transform="translate(228.30,34.96) skewY(0.05) scale(0.8450,1.0000)">TG(16:0/18:1/18:1)</text>
<text x="0" y="0" font-family="'Liberation Sans', Arial, sans-serif" font-size="2.9" fill="#222" stroke="#222" stroke-width="0.05" transform="translate(228.30,38.31) skewY(0.05) scale(0.8450,1.0000)">dMePE(34:3p)</text>
<text x="0" y="0" font-family="'Liberation Sans', Arial, sans-serif" font-size="2.9" fill="#222" stroke="#222" stroke-width="0.05" transform="translate(228.30,41.66) skewY(0.05) scale(0.8450,1.0000)">PC(16:0p/18:0)</text>
<text x="0" y="0" font-family="'Liberation Sans', Arial, sans-serif" font-size="2.9" fill="#222" stroke="#222" stroke-width="0.05" transform="translate(228.30,45.01) skewY(0.05) scale(0.8450,1.0000)">LPC(20:0)</text>
<text x="0" y="0" font-family="'Liberation Sans', Arial, sans-serif" font-size="2.9" fill="#222" stroke="#222" stroke-width="0.05" transform="translate(228.30,48.36) skewY(0.05) scale(0.8450,1.0000)">TG(16:1/16:1/18:2)</text>
<text x="0" y="0" font-family="'Liberation Sans', Arial, sans-serif" font-size="2.9" fill="#222" stroke="#222" stroke-width="0.05" transform="translate(228.30,51.70) skewY(0.05) scale(0.8450,1.0000)">TG(16:1/17:1/18:1)</text>
<text x="0" y="0" font-family="'Liberation Sans', Arial, sans-serif" font-size="2.9" fill="#222" stroke="#222" stroke-width="0.05" transform="translate(228.30,55.05) skewY(0.05) scale(0.8450,1.0000)">TG(16:0/17:1/18:1)</text>
<text x="0" y="0" font-family="'Liberation Sans', Arial, sans-serif" font-size="2.9" fill="#222" stroke="#222" stroke-width="0.05" transform="translate(228.30,58.40) skewY(0.05) scale(0.8450,1.0000)">TG(16:0/17:1/18:1)</text>
<text x="0" y="0" font-family="'Liberation Sans', Arial, sans-serif" font-size="2.9" fill="#222" stroke="#222" stroke-width="0.05" transform="translate(228.30,61.75) skewY(0.05) scale(0.8450,1.0000)">TG(16:1/16:1/18:2)</text>
<text x="0" y="0" font-family="'Liberation Sans', Arial, sans-serif" font-size="2.9" fill="#222" stroke="#222" stroke-width="0.05" transform="translate(228.30,65.10) skewY(0.05) scale(0.8450,1.0000)">TG(16:1/16:1/18:1)</text>
<text x="0" y="0" font-family="'Liberation Sans', Arial, sans-serif" font-size="2.9" fill="#222" stroke="#222" stroke-width="0.05" transform="translate(228.30,68.44) skewY(0.05) scale(0.8450,1.0000)">TG(16:1/18:1/18:1)</text>
<text x="0" y="0" font-family="'Liberation Sans', Arial, sans-serif" font-size="2.9" fill="#222" stroke="#222" stroke-width="0.05" transform="translate(228.30,71.79) skewY(0.05) scale(0.8450,1.0000)">PC(16:1/16:1)</text>
<text x="0" y="0" font-family="'Liberation Sans', Arial, sans-serif" font-size="2.9" fill="#222" stroke="#222" stroke-width="0.05" transform="translate(228.30,75.14) skewY(0.05) scale(0.8450,1.0000)">PC(34:4e)</text>
<text x="0" y="0" font-family="'Liberation Sans', Arial, sans-serif" font-size="2.9" fill="#222" stroke="#222" stroke-width="0.05" transform="translate(228.30,78.49) skewY(0.05) scale(0.8450,1.0000)">PE(16:0p/20:4)</text>
<text x="0" y="0" font-family="'Liberation Sans', Arial, sans-serif" font-size="2.9" fill="#222" stroke="#222" stroke-width="0.05" transform="translate(228.30,81.84) skewY(0.05) scale(0.8450,1.0000)">PC(34:1e)</text>
<text x="0" y="0" font-family="'Liberation Sans', Arial, sans-serif" font-size="2.9" fill="#222" stroke="#222" stroke-width="0.05" transform="translate(228.30,85.18) skewY(0.05) scale(0.8450,1.0000)">PC(36:2e)</text>
<text x="0" y="0" font-family="'Liberation Sans', Arial, sans-serif" font-size="2.9" fill="#222" stroke="#222" stroke-width="0.05" transform="translate(228.30,88.53) skewY(0.05) scale(0.8450,1.0000)">PC(18:0p/18:0)</text>
<text x="0" y="0" font-family="'Liberation Sans', Arial, sans-serif" font-size="2.9" fill="#222" stroke="#222" stroke-width="0.05" transform="translate(228.30,91.88) skewY(0.05) scale(0.8450,1.0000)">PC(18:0p/18:1)</text>
<text x="0" y="0" font-family="'Liberation Sans', Arial, sans-serif" font-size="2.9" fill="#222" stroke="#222" stroke-width="0.05" transform="translate(228.30,95.23) skewY(0.05) scale(0.8450,1.0000)">PE(18:0p/20:4)</text>
<text x="0" y="0" font-family="'Liberation Sans', Arial, sans-serif" font-size="2.9" fill="#222" stroke="#222" stroke-width="0.05" transform="translate(228.30,98.58) skewY(0.05) scale(0.8450,1.0000)">TG(17:0/18:1/18:1)</text>
<text x="0" y="0" font-family="'Liberation Sans', Arial, sans-serif" font-size="2.9" fill="#222" stroke="#222" stroke-width="0.05" transform="translate(228.30,101.92) skewY(0.05) scale(0.8450,1.0000)">PA(16:1/18:2)</text>
<text x="0" y="0" font-family="'Liberation Sans', Arial, sans-serif" font-size="2.9" fill="#222" stroke="#222" stroke-width="0.05" transform="translate(228.30,105.27) skewY(0.05) scale(0.8450,1.0000)">LPC(27:0)</text>
<text x="0" y="0" font-family="'Liberation Sans', Arial, sans-serif" font-size="2.9" fill="#222" stroke="#222" stroke-width="0.05" transform="translate(228.30,108.62) skewY(0.05) scale(0.8450,1.0000)">PE(18:0p/20:4)</text>
<text x="0" y="0" font-family="'Liberation Sans', Arial, sans-serif" font-size="2.9" fill="#222" stroke="#222" stroke-width="0.05" transform="translate(228.30,111.97) skewY(0.05) scale(0.8450,1.0000)">PE(18:1/20:4)</text>
<text x="0" y="0" font-family="'Liberation Sans', Arial, sans-serif" font-size="2.9" fill="#222" stroke="#222" stroke-width="0.05" transform="translate(228.30,115.32) skewY(0.05) scale(0.8450,1.0000)">PE(16:0p/22:6)</text>
<text x="0" y="0" font-family="'Liberation Sans', Arial, sans-serif" font-size="2.9" fill="#222" stroke="#222" stroke-width="0.05" transform="translate(228.30,118.66) skewY(0.05) scale(0.8450,1.0000)">PE(18:0p/22:6)</text>
<text x="0" y="0" font-family="'Liberation Sans', Arial, sans-serif" font-size="2.9" fill="#222" stroke="#222" stroke-width="0.05" transform="translate(228.30,122.01) skewY(0.05) scale(0.8450,1.0000)">PC(34:1)</text>
<text x="0" y="0" font-family="'Liberation Sans', Arial, sans-serif" font-size="2.9" fill="#222" stroke="#222" stroke-width="0.05" transform="translate(228.30,125.36) skewY(0.05) scale(0.8450,1.0000)">PC(17:0/18:2)</text>
<text x="0" y="0" font-family="'Liberation Sans', Arial, sans-serif" font-size="2.9" fill="#222" stroke="#222" stroke-width="0.05" transform="translate(228.30,128.71) skewY(0.05) scale(0.8450,1.0000)">PC(16:0/20:4)</text>
<text x="0" y="0" font-family="'Liberation Sans', Arial, sans-serif" font-size="2.9" fill="#222" stroke="#222" stroke-width="0.05" transform="translate(228.30,132.06) skewY(0.05) scale(0.8450,1.0000)">PC(36:4)</text>
<text x="0" y="0" font-family="'Liberation Sans', Arial, sans-serif" font-size="2.9" fill="#222" stroke="#222" stroke-width="0.05" transform="translate(228.30,135.40) skewY(0.05) scale(0.8450,1.0000)">PC(38:5)</text>
<text x="0" y="0" font-family="'Liberation Sans', Arial, sans-serif" font-size="2.9" fill="#222" stroke="#222" stroke-width="0.05" transform="translate(228.30,138.75) skewY(0.05) scale(0.8450,1.0000)">PC(38:5e)</text>
<text x="0" y="0" font-family="'Liberation Sans', Arial, sans-serif" font-size="2.9" fill="#222" stroke="#222" stroke-width="0.05" transform="translate(228.30,142.10) skewY(0.05) scale(0.8450,1.0000)">PC(38:4e)</text>
<text x="0" y="0" font-family="'Liberation Sans', Arial, sans-serif" font-size="2.9" fill="#222" stroke="#222" stroke-width="0.05" transform="translate(228.30,145.45) skewY(0.05) scale(0.8450,1.0000)">SM(26:1)</text>
<text x="0" y="0" font-family="'Liberation Sans', Arial, sans-serif" font-size="2.9" fill="#222" stroke="#222" stroke-width="0.05" transform="translate(228.30,148.80) skewY(0.05) scale(0.8450,1.0000)">SM(38:1)</text>
<text x="0" y="0" font-family="'Liberation Sans', Arial, sans-serif" font-size="2.9" fill="#222" stroke="#222" stroke-width="0.05" transform="translate(228.30,152.14) skewY(0.05) scale(0.8450,1.0000)">PC(38:6)</text>
<text x="0" y="0" font-family="'Liberation Sans', Arial, sans-serif" font-size="2.9" fill="#222" stroke="#222" stroke-width="0.05" transform="translate(228.30,155.49) skewY(0.05) scale(0.8450,1.0000)">PC(38:7)</text>
<text x="0" y="0" font-family="'Liberation Sans', Arial, sans-serif" font-size="2.9" fill="#222" stroke="#222" stroke-width="0.05" transform="translate(228.30,158.84) skewY(0.05) scale(0.8450,1.0000)">PC(38:7)</text>
<text x="0" y="0" font-family="'Liberation Sans', Arial, sans-serif" font-size="2.9" fill="#222" stroke="#222" stroke-width="0.05" transform="translate(228.30,162.19) skewY(0.05) scale(0.8450,1.0000)">PC(14:0/18:1)</text>
<text x="0" y="0" font-family="'Liberation Sans', Arial, sans-serif" font-size="2.9" fill="#222" stroke="#222" stroke-width="0.05" transform="translate(228.30,165.54) skewY(0.05) scale(0.8450,1.0000)">PC(36:1p)</text>
<text x="0" y="0" font-family="'Liberation Sans', Arial, sans-serif" font-size="2.9" fill="#222" stroke="#222" stroke-width="0.05" transform="translate(228.30,168.88) skewY(0.05) scale(0.8450,1.0000)">TG(16:0/16:0/18:0)</text>
<text x="0" y="0" font-family="'Liberation Sans', Arial, sans-serif" font-size="2.9" fill="#222" stroke="#222" stroke-width="0.05" transform="translate(228.30,172.23) skewY(0.05) scale(0.8450,1.0000)">TG(16:0/16:0/18:0)</text>
<text x="0" y="0" font-family="'Liberation Sans', Arial, sans-serif" font-size="2.9" fill="#222" stroke="#222" stroke-width="0.05" transform="translate(228.30,175.58) skewY(0.05) scale(0.8450,1.0000)">TG(16:0/16:0/17:0)</text>
<text x="0" y="0" font-family="'Liberation Sans', Arial, sans-serif" font-size="2.9" fill="#222" stroke="#222" stroke-width="0.05" transform="translate(228.30,178.93) skewY(0.05) scale(0.8450,1.0000)">TG(16:0/16:0/18:0)</text>
<text x="0" y="0" font-family="'Liberation Sans', Arial, sans-serif" font-size="2.9" fill="#222" stroke="#222" stroke-width="0.05" transform="translate(228.30,182.28) skewY(0.05) scale(0.8450,1.0000)">TG(16:0/17:0/18:0)</text>
<text x="0" y="0" font-family="'Liberation Sans', Arial, sans-serif" font-size="2.9" fill="#222" stroke="#222" stroke-width="0.05" transform="translate(228.30,185.62) skewY(0.05) scale(0.8450,1.0000)">SM(d18:0/16:1)+CH3COO</text>
<text x="0" y="0" font-family="'Liberation Sans', Arial, sans-serif" font-size="2.9" fill="#222" stroke="#222" stroke-width="0.05" transform="translate(228.30,188.97) skewY(0.05) scale(0.8450,1.0000)">PE(40:4e)</text>
<text x="0" y="0" font-family="'Liberation Sans', Arial, sans-serif" font-size="2.9" fill="#222" stroke="#222" stroke-width="0.05" transform="translate(228.30,192.32) skewY(0.05) scale(0.8450,1.0000)">PC(36:6p)</text>
<text x="0" y="0" font-family="'Liberation Sans', Arial, sans-serif" font-size="2.9" fill="#222" stroke="#222" stroke-width="0.05" transform="translate(228.30,195.67) skewY(0.05) scale(0.8450,1.0000)">PS(36:1e)</text>
<text x="0" y="0" font-family="'Liberation Sans', Arial, sans-serif" font-size="2.9" fill="#222" stroke="#222" stroke-width="0.05" transform="translate(228.30,199.02) skewY(0.05) scale(0.8450,1.0000)">PE(18:0/20:4)</text>
<text x="0" y="0" font-family="'Liberation Sans', Arial, sans-serif" font-size="2.9" fill="#222" stroke="#222" stroke-width="0.05" transform="translate(228.30,202.36) skewY(0.05) scale(0.8450,1.0000)">PE(18:0/18:1)</text>
<text x="0" y="0" font-family="'Liberation Sans', Arial, sans-serif" font-size="2.9" fill="#222" stroke="#222" stroke-width="0.05" transform="translate(228.30,205.71) skewY(0.05) scale(0.8450,1.0000)">PE(18:0p/20:4)</text>
<text x="0" y="0" font-family="'Liberation Sans', Arial, sans-serif" font-size="2.9" fill="#222" stroke="#222" stroke-width="0.05" transform="translate(228.30,209.06) skewY(0.05) scale(0.8450,1.0000)">PS(41:1e)</text>
<text x="0" y="0" font-family="'Liberation Sans', Arial, sans-serif" font-size="2.9" fill="#222" stroke="#222" stroke-width="0.05" transform="translate(228.30,212.41) skewY(0.05) scale(0.8450,1.0000)">PA(26:2)</text>
<text x="0" y="0" font-family="'Liberation Sans', Arial, sans-serif" font-size="2.9" fill="#222" stroke="#222" stroke-width="0.05" transform="translate(228.30,215.76) skewY(0.05) scale(0.8450,1.0000)">PC(28:3e)</text>
<text x="0" y="0" font-family="'Liberation Sans', Arial, sans-serif" font-size="2.9" fill="#222" stroke="#222" stroke-width="0.05" transform="translate(228.30,219.10) skewY(0.05) scale(0.8450,1.0000)">PC(28:3)</text>
<text x="0" y="0" font-family="'Liberation Sans', Arial, sans-serif" font-size="2.9" fill="#222" stroke="#222" stroke-width="0.05" transform="translate(228.30,222.45) skewY(0.05) scale(0.8450,1.0000)">PC(34:1e)</text>
<text x="0" y="0" font-family="'Liberation Sans', Arial, sans-serif" font-size="2.9" fill="#222" stroke="#222" stroke-width="0.05" transform="translate(228.30,225.80) skewY(0.05) scale(0.8450,1.0000)">PC(28:6p)</text>
<text x="0" y="0" font-family="'Liberation Sans', Arial, sans-serif" font-size="2.9" fill="#222" stroke="#222" stroke-width="0.05" transform="translate(228.30,229.15) skewY(0.05) scale(0.8450,1.0000)">PC(28:6)</text>
<text x="0" y="0" font-family="'Liberation Sans', Arial, sans-serif" font-size="2.9" fill="#222" stroke="#222" stroke-width="0.05" transform="translate(228.30,232.50) skewY(0.05) scale(0.8450,1.0000)">PC(28:1p)</text>
<text x="0" y="0" font-family="'Liberation Sans', Arial, sans-serif" font-size="2.9" fill="#222" stroke="#222" stroke-width="0.05" transform="translate(228.30,235.84) skewY(0.05) scale(0.8450,1.0000)">LPC(28:4)</text>
<text x="0" y="0" font-family="'Liberation Sans', Arial, sans-serif" font-size="2.9" fill="#222" stroke="#222" stroke-width="0.05" transform="translate(228.30,239.19) skewY(0.05) scale(0.8450,1.0000)">LPC(20:4)</text>
<text x="0" y="0" font-family="'Liberation Sans', Arial, sans-serif" font-size="2.9" fill="#222" stroke="#222" stroke-width="0.05" transform="translate(228.30,242.54) skewY(0.05) scale(0.8450,1.0000)">PC(28:4p)</text>
<text x="0" y="0" font-family="'Liberation Sans', Arial, sans-serif" font-size="2.9" fill="#222" stroke="#222" stroke-width="0.05" transform="translate(228.30,245.89) skewY(0.05) scale(0.8450,1.0000)">LPC(28:8)</text>
<text x="0" y="0" font-family="'Liberation Sans', Arial, sans-serif" font-size="2.9" fill="#222" stroke="#222" stroke-width="0.05" transform="translate(228.30,249.24) skewY(0.05) scale(0.8450,1.0000)">PE(18:0/20:4)</text>
<text x="0" y="0" font-family="'Liberation Sans', Arial, sans-serif" font-size="2.9" fill="#222" stroke="#222" stroke-width="0.05" transform="translate(228.30,252.58) skewY(0.05) scale(0.8450,1.0000)">SM(d18:1/17:1)+CH3COO</text>
<text x="0" y="0" font-family="'Liberation Sans', Arial, sans-serif" font-size="2.9" fill="#222" stroke="#222" stroke-width="0.05" transform="translate(228.30,255.93) skewY(0.05) scale(0.8450,1.0000)">SM(d18:1/18:1)+CH3COO</text>
<text x="0" y="0" font-family="'Liberation Sans', Arial, sans-serif" font-size="2.9" fill="#222" stroke="#222" stroke-width="0.05" transform="translate(228.30,259.28) skewY(0.05) scale(0.8450,1.0000)">PE(18:0/18:1)</text>
<text x="0" y="0" font-family="'Liberation Sans', Arial, sans-serif" font-size="2.9" fill="#222" stroke="#222" stroke-width="0.05" transform="translate(228.30,262.63) skewY(0.05) scale(0.8450,1.0000)">PE(18:1p/20:4)</text>
<text x="0" y="0" font-family="'Liberation Sans', Arial, sans-serif" font-size="2.9" fill="#222" stroke="#222" stroke-width="0.05" transform="translate(228.30,265.98) skewY(0.05) scale(0.8450,1.0000)">PS(42:5e)</text>
<defs><linearGradient id="hm" x1="0" y1="0" x2="0" y2="1"><stop offset="0" stop-color="#ff0000"/><stop offset="0.5" stop-color="#ffffff"/><stop offset="1" stop-color="#141482"/></linearGradient><linearGradient id="pv" x1="0" y1="0" x2="0" y2="1"><stop offset="0" stop-color="#00ff00"/><stop offset="0.1" stop-color="#65ef00"/><stop offset="0.2" stop-color="#8adf00"/><stop offset="0.3" stop-color="#a4ce00"/><stop offset="0.4" stop-color="#b8bd00"/><stop offset="0.5" stop-color="#c9ab00"/><stop offset="0.6" stop-color="#d79800"/><stop offset="0.7" stop-color="#e38200"/><stop offset="0.8" stop-color="#ed6a00"/><stop offset="0.9" stop-color="#f74a00"/><stop offset="1" stop-color="#ff0000"/></linearGradient></defs>
<rect x="260.4" y="9.9" width="4.6" height="62.5" fill="url(#hm)"/>
<text x="0" y="0" font-family="'Liberation Sans', Arial, sans-serif" font-size="4.3" fill="#333" transform="translate(266.70,16.00) skewY(0.05) scale(1.0000,1.0000)">2</text>
<text x="0" y="0" font-family="'Liberation Sans', Arial, sans-serif" font-size="4.3" fill="#333" transform="translate(266.70,29.40) skewY(0.05) scale(1.0000,1.0000)">1</text>
<text x="0" y="0" font-family="'Liberation Sans', Arial, sans-serif" font-size="4.3" fill="#333" transform="translate(266.70,42.80) skewY(0.05) scale(1.0000,1.0000)">0</text>
<text x="0" y="0" font-family="'Liberation Sans', Arial, sans-serif" font-size="4.3" fill="#333" transform="translate(266.70,56.10) skewY(0.05) scale(1.0000,1.0000)">-1</text>
<text x="0" y="0" font-family="'Liberation Sans', Arial, sans-serif" font-size="4.3" fill="#333" transform="translate(266.70,69.50) skewY(0.05) scale(1.0000,1.0000)">-2</text>
<rect x="392.7" y="11.8" width="112.50" height="242.50" fill="#fff"/>
<line x1="409.45" y1="11.8" x2="409.45" y2="254.3" stroke="#f2f2f2" stroke-width="0.5"/>
<line x1="441.35" y1="11.8" x2="441.35" y2="254.3" stroke="#f2f2f2" stroke-width="0.5"/>
<line x1="473.25" y1="11.8" x2="473.25" y2="254.3" stroke="#f2f2f2" stroke-width="0.5"/>
<line x1="393.50" y1="11.8" x2="393.50" y2="254.3" stroke="#ebebeb" stroke-width="0.8"/>
<line x1="425.40" y1="11.8" x2="425.40" y2="254.3" stroke="#ebebeb" stroke-width="0.8"/>
<line x1="457.30" y1="11.8" x2="457.30" y2="254.3" stroke="#ebebeb" stroke-width="0.8"/>
<line x1="489.20" y1="11.8" x2="489.20" y2="254.3" stroke="#ebebeb" stroke-width="0.8"/>
<line x1="392.7" y1="19.95" x2="505.2" y2="19.95" stroke="#ebebeb" stroke-width="0.8"/>
<line x1="392.7" y1="34.16" x2="505.2" y2="34.16" stroke="#ebebeb" stroke-width="0.8"/>
<line x1="392.7" y1="48.37" x2="505.2" y2="48.37" stroke="#ebebeb" stroke-width="0.8"/>
<line x1="392.7" y1="62.58" x2="505.2" y2="62.58" stroke="#ebebeb" stroke-width="0.8"/>
<line x1="392.7" y1="76.79" x2="505.2" y2="76.79" stroke="#ebebeb" stroke-width="0.8"/>
<line x1="392.7" y1="91.00" x2="505.2" y2="91.00" stroke="#ebebeb" stroke-width="0.8"/>
<line x1="392.7" y1="105.21" x2="505.2" y2="105.21" stroke="#ebebeb" stroke-width="0.8"/>
<line x1="392.7" y1="119.42" x2="505.2" y2="119.42" stroke="#ebebeb" stroke-width="0.8"/>
<line x1="392.7" y1="133.62" x2="505.2" y2="133.62" stroke="#ebebeb" stroke-width="0.8"/>
<line x1="392.7" y1="147.83" x2="505.2" y2="147.83" stroke="#ebebeb" stroke-width="0.8"/>
<line x1="392.7" y1="162.04" x2="505.2" y2="162.04" stroke="#ebebeb" stroke-width="0.8"/>
<line x1="392.7" y1="176.25" x2="505.2" y2="176.25" stroke="#ebebeb" stroke-width="0.8"/>
<line x1="392.7" y1="190.46" x2="505.2" y2="190.46" stroke="#ebebeb" stroke-width="0.8"/>
<line x1="392.7" y1="204.67" x2="505.2" y2="204.67" stroke="#ebebeb" stroke-width="0.8"/>
<line x1="392.7" y1="218.88" x2="505.2" y2="218.88" stroke="#ebebeb" stroke-width="0.8"/>
<line x1="392.7" y1="233.09" x2="505.2" y2="233.09" stroke="#ebebeb" stroke-width="0.8"/>
<line x1="392.7" y1="247.30" x2="505.2" y2="247.30" stroke="#ebebeb" stroke-width="0.8"/>
<line x1="390.6" y1="19.95" x2="392.7" y2="19.95" stroke="#333" stroke-width="0.8"/>
<text x="0" y="0" font-family="'Liberation Sans', Arial, sans-serif" font-size="7.3" fill="#4a4a4a" stroke="#4a4a4a" stroke-width="0.12" text-anchor="end" transform="translate(388.60,22.55) skewY(0.05) scale(0.7480,1.0000)">Glycerophospholipid metabolism</text>
<line x1="390.6" y1="34.16" x2="392.7" y2="34.16" stroke="#333" stroke-width="0.8"/>
<text x="0" y="0" font-family="'Liberation Sans', Arial, sans-serif" font-size="7.3" fill="#4a4a4a" stroke="#4a4a4a" stroke-width="0.12" text-anchor="end" transform="translate(388.60,36.76) skewY(0.05) scale(0.7480,1.0000)">Systemic lupus erythematosus</text>
<line x1="390.6" y1="48.37" x2="392.7" y2="48.37" stroke="#333" stroke-width="0.8"/>
<text x="0" y="0" font-family="'Liberation Sans', Arial, sans-serif" font-size="7.3" fill="#4a4a4a" stroke="#4a4a4a" stroke-width="0.12" text-anchor="end" transform="translate(388.60,50.97) skewY(0.05) scale(0.7480,1.0000)">Leishmaniasis</text>
<line x1="390.6" y1="62.58" x2="392.7" y2="62.58" stroke="#333" stroke-width="0.8"/>
<text x="0" y="0" font-family="'Liberation Sans', Arial, sans-serif" font-size="7.3" fill="#4a4a4a" stroke="#4a4a4a" stroke-width="0.12" text-anchor="end" transform="translate(388.60,65.18) skewY(0.05) scale(0.7480,1.0000)">Cholesterol metabolism</text>
<line x1="390.6" y1="76.79" x2="392.7" y2="76.79" stroke="#333" stroke-width="0.8"/>
<text x="0" y="0" font-family="'Liberation Sans', Arial, sans-serif" font-size="7.3" fill="#4a4a4a" stroke="#4a4a4a" stroke-width="0.12" text-anchor="end" transform="translate(388.60,79.39) skewY(0.05) scale(0.7480,1.0000)">Choline metabolism in cancer</text>
<line x1="390.6" y1="91.00" x2="392.7" y2="91.00" stroke="#333" stroke-width="0.8"/>
<text x="0" y="0" font-family="'Liberation Sans', Arial, sans-serif" font-size="7.3" fill="#4a4a4a" stroke="#4a4a4a" stroke-width="0.12" text-anchor="end" transform="translate(388.60,93.60) skewY(0.05) scale(0.7480,1.0000)">Fat digestion and absorption</text>
<line x1="390.6" y1="105.21" x2="392.7" y2="105.21" stroke="#333" stroke-width="0.8"/>
<text x="0" y="0" font-family="'Liberation Sans', Arial, sans-serif" font-size="7.3" fill="#4a4a4a" stroke="#4a4a4a" stroke-width="0.12" text-anchor="end" transform="translate(388.60,107.81) skewY(0.05) scale(0.7480,1.0000)">Amoebiasis</text>
<line x1="390.6" y1="119.42" x2="392.7" y2="119.42" stroke="#333" stroke-width="0.8"/>
<text x="0" y="0" font-family="'Liberation Sans', Arial, sans-serif" font-size="7.3" fill="#4a4a4a" stroke="#4a4a4a" stroke-width="0.12" text-anchor="end" transform="translate(388.60,122.02) skewY(0.05) scale(0.7480,1.0000)">Regulation of lipolysis in adipocytes</text>
<line x1="390.6" y1="133.62" x2="392.7" y2="133.62" stroke="#333" stroke-width="0.8"/>
<text x="0" y="0" font-family="'Liberation Sans', Arial, sans-serif" font-size="7.3" fill="#4a4a4a" stroke="#4a4a4a" stroke-width="0.12" text-anchor="end" transform="translate(388.60,136.22) skewY(0.05) scale(0.7480,1.0000)">Retrograde endocannabinoid signaling</text>
<line x1="390.6" y1="147.83" x2="392.7" y2="147.83" stroke="#333" stroke-width="0.8"/>
<text x="0" y="0" font-family="'Liberation Sans', Arial, sans-serif" font-size="7.3" fill="#4a4a4a" stroke="#4a4a4a" stroke-width="0.12" text-anchor="end" transform="translate(388.60,150.43) skewY(0.05) scale(0.7480,1.0000)">Insulin resistance</text>
<line x1="390.6" y1="162.04" x2="392.7" y2="162.04" stroke="#333" stroke-width="0.8"/>
<text x="0" y="0" font-family="'Liberation Sans', Arial, sans-serif" font-size="7.3" fill="#4a4a4a" stroke="#4a4a4a" stroke-width="0.12" text-anchor="end" transform="translate(388.60,164.64) skewY(0.05) scale(0.7480,1.0000)">Thermogenesis</text>
<line x1="390.6" y1="176.25" x2="392.7" y2="176.25" stroke="#333" stroke-width="0.8"/>
<text x="0" y="0" font-family="'Liberation Sans', Arial, sans-serif" font-size="7.3" fill="#4a4a4a" stroke="#4a4a4a" stroke-width="0.12" text-anchor="end" transform="translate(388.60,178.85) skewY(0.05) scale(0.7480,1.0000)">Linoleic acid metabolism</text>
<line x1="390.6" y1="190.46" x2="392.7" y2="190.46" stroke="#333" stroke-width="0.8"/>
<text x="0" y="0" font-family="'Liberation Sans', Arial, sans-serif" font-size="7.3" fill="#4a4a4a" stroke="#4a4a4a" stroke-width="0.12" text-anchor="end" transform="translate(388.60,193.06) skewY(0.05) scale(0.7480,1.0000)">Vitamin digestion and absorption</text>
<line x1="390.6" y1="204.67" x2="392.7" y2="204.67" stroke="#333" stroke-width="0.8"/>
<text x="0" y="0" font-family="'Liberation Sans', Arial, sans-serif" font-size="7.3" fill="#4a4a4a" stroke="#4a4a4a" stroke-width="0.12" text-anchor="end" transform="translate(388.60,207.27) skewY(0.05) scale(0.7480,1.0000)">Glycerolipid metabolism</text>
<line x1="390.6" y1="218.88" x2="392.7" y2="218.88" stroke="#333" stroke-width="0.8"/>
<text x="0" y="0" font-family="'Liberation Sans', Arial, sans-serif" font-size="7.3" fill="#4a4a4a" stroke="#4a4a4a" stroke-width="0.12" text-anchor="end" transform="translate(388.60,221.48) skewY(0.05) scale(0.7480,1.0000)">alpha-Linolenic acid metabolism</text>
<line x1="390.6" y1="233.09" x2="392.7" y2="233.09" stroke="#333" stroke-width="0.8"/>
<text x="0" y="0" font-family="'Liberation Sans', Arial, sans-serif" font-size="7.3" fill="#4a4a4a" stroke="#4a4a4a" stroke-width="0.12" text-anchor="end" transform="translate(388.60,235.69) skewY(0.05) scale(0.7480,1.0000)">Glycine, serine and threonine metabolism</text>
<line x1="390.6" y1="247.30" x2="392.7" y2="247.30" stroke="#333" stroke-width="0.8"/>
<text x="0" y="0" font-family="'Liberation Sans', Arial, sans-serif" font-size="7.3" fill="#4a4a4a" stroke="#4a4a4a" stroke-width="0.12" text-anchor="end" transform="translate(388.60,249.90) skewY(0.05) scale(0.7480,1.0000)">Arachidonic acid metabolism</text>
<ellipse cx="405.4" cy="19.95" rx="3.55" ry="4.25" fill="#ff0000"/>
<ellipse cx="500.3" cy="34.16" rx="2.8" ry="3.4" fill="#fa1e00"/>
<ellipse cx="446.7" cy="48.37" rx="2.8" ry="3.4" fill="#f24a00"/>
<ellipse cx="438.8" cy="62.58" rx="2.8" ry="3.4" fill="#f25000"/>
<ellipse cx="422.5" cy="76.79" rx="2.8" ry="3.4" fill="#ef6400"/>
<ellipse cx="419.9" cy="91.00" rx="2.8" ry="3.4" fill="#ee6a00"/>
<ellipse cx="417.9" cy="105.21" rx="2.8" ry="3.4" fill="#ed6e00"/>
<ellipse cx="416.3" cy="119.42" rx="2.8" ry="3.4" fill="#ec7000"/>
<ellipse cx="410.0" cy="133.62" rx="2.8" ry="3.4" fill="#ea7800"/>
<ellipse cx="409.3" cy="147.83" rx="2.8" ry="3.4" fill="#e87c00"/>
<ellipse cx="407.3" cy="162.04" rx="2.8" ry="3.4" fill="#e48000"/>
<ellipse cx="404.7" cy="176.25" rx="2.8" ry="3.4" fill="#e08a00"/>
<ellipse cx="402.0" cy="190.46" rx="2.8" ry="3.4" fill="#d4a000"/>
<ellipse cx="401.5" cy="204.67" rx="2.8" ry="3.4" fill="#d4a000"/>
<ellipse cx="400.4" cy="218.88" rx="2.8" ry="3.4" fill="#c4b000"/>
<ellipse cx="399.6" cy="233.09" rx="2.8" ry="3.4" fill="#a8c800"/>
<ellipse cx="397.4" cy="247.30" rx="2.8" ry="3.4" fill="#00ee10"/>
<rect x="392.7" y="11.8" width="112.50" height="242.50" fill="none" stroke="#444" stroke-width="0.9"/>
<line x1="393.50" y1="254.3" x2="393.50" y2="256.1" stroke="#333" stroke-width="0.8"/>
<text x="0" y="0" font-family="'Liberation Sans', Arial, sans-serif" font-size="7" fill="#4d4d4d" stroke="#4d4d4d" stroke-width="0.2" text-anchor="middle" transform="translate(393.50,264.90) skewY(0.05) scale(0.7800,1.0000)">0.0</text>
<line x1="425.40" y1="254.3" x2="425.40" y2="256.1" stroke="#333" stroke-width="0.8"/>
<text x="0" y="0" font-family="'Liberation Sans', Arial, sans-serif" font-size="7" fill="#4d4d4d" stroke="#4d4d4d" stroke-width="0.2" text-anchor="middle" transform="translate(425.40,264.90) skewY(0.05) scale(0.7800,1.0000)">0.1</text>
<line x1="457.30" y1="254.3" x2="457.30" y2="256.1" stroke="#333" stroke-width="0.8"/>
<text x="0" y="0" font-family="'Liberation Sans', Arial, sans-serif" font-size="7" fill="#4d4d4d" stroke="#4d4d4d" stroke-width="0.2" text-anchor="middle" transform="translate(457.30,264.90) skewY(0.05) scale(0.7800,1.0000)">0.2</text>
<line x1="489.20" y1="254.3" x2="489.20" y2="256.1" stroke="#333" stroke-width="0.8"/>
<text x="0" y="0" font-family="'Liberation Sans', Arial, sans-serif" font-size="7" fill="#4d4d4d" stroke="#4d4d4d" stroke-width="0.2" text-anchor="middle" transform="translate(489.20,264.90) skewY(0.05) scale(0.7800,1.0000)">0.3</text>
<text x="0" y="0" font-family="'Liberation Sans', Arial, sans-serif" font-size="8.9" fill="#111" stroke="#111" stroke-width="0.25" text-anchor="middle" transform="translate(448.80,275.30) skewY(0.05) scale(0.7800,1.0000)">RichFactor</text>
<text x="0" y="0" font-family="'Liberation Sans', Arial, sans-serif" font-size="9.7" fill="#111" stroke="#111" stroke-width="0.25" text-anchor="middle" transform="translate(285.60,130.40) rotate(-90) skewY(0.05) scale(0.7700,1.0000)">PathwayTerm</text>
<text x="0" y="0" font-family="'Liberation Sans', Arial, sans-serif" font-size="8.6" fill="#111" stroke="#111" stroke-width="0.25" transform="translate(517.10,68.60) skewY(0.05) scale(0.8000,1.0000)">Number</text>
<ellipse cx="523.1" cy="80.6" rx="2.9" ry="3.2" fill="#000"/>
<ellipse cx="523.0" cy="94.9" rx="3.6" ry="4.2" fill="#000"/>
<text x="0" y="0" font-family="'Liberation Sans', Arial, sans-serif" font-size="8.6" fill="#222" stroke="#222" stroke-width="0.25" transform="translate(532.60,83.60) skewY(0.05) scale(0.8000,1.0000)">1</text>
<text x="0" y="0" font-family="'Liberation Sans', Arial, sans-serif" font-size="8.6" fill="#222" stroke="#222" stroke-width="0.25" transform="translate(532.60,98.10) skewY(0.05) scale(0.8000,1.0000)">2</text>
<text x="0" y="0" font-family="'Liberation Sans', Arial, sans-serif" font-size="8.6" fill="#111" stroke="#111" stroke-width="0.25" transform="translate(517.40,129.30) skewY(0.05) scale(0.8000,1.0000)">Pvalue</text>
<rect x="517.1" y="133.0" width="11.9" height="73.4" fill="url(#pv)"/>
<line x1="517.1" y1="142.5" x2="519.5" y2="142.5" stroke="#fff" stroke-width="0.6" stroke-opacity="0.6"/>
<line x1="526.6" y1="142.5" x2="529" y2="142.5" stroke="#fff" stroke-width="0.6" stroke-opacity="0.6"/>
<text x="0" y="0" font-family="'Liberation Sans', Arial, sans-serif" font-size="8.6" fill="#222" stroke="#222" stroke-width="0.25" transform="translate(532.50,145.60) skewY(0.05) scale(0.8000,1.0000)">0.06</text>
<line x1="517.1" y1="164.0" x2="519.5" y2="164.0" stroke="#fff" stroke-width="0.6" stroke-opacity="0.6"/>
<line x1="526.6" y1="164.0" x2="529" y2="164.0" stroke="#fff" stroke-width="0.6" stroke-opacity="0.6"/>
<text x="0" y="0" font-family="'Liberation Sans', Arial, sans-serif" font-size="8.6" fill="#222" stroke="#222" stroke-width="0.25" transform="translate(532.50,167.10) skewY(0.05) scale(0.8000,1.0000)">0.04</text>
<line x1="517.1" y1="185.5" x2="519.5" y2="185.5" stroke="#fff" stroke-width="0.6" stroke-opacity="0.6"/>
<line x1="526.6" y1="185.5" x2="529" y2="185.5" stroke="#fff" stroke-width="0.6" stroke-opacity="0.6"/>
<text x="0" y="0" font-family="'Liberation Sans', Arial, sans-serif" font-size="8.6" fill="#222" stroke="#222" stroke-width="0.25" transform="translate(532.50,188.60) skewY(0.05) scale(0.8000,1.0000)">0.02</text>
<text x="127.2" y="298.2" font-family="'Liberation Serif', 'Times New Roman', serif" font-size="14" fill="#000">(<tspan font-weight="bold">a</tspan>)</text>
<text x="404" y="298.2" font-family="'Liberation Serif', 'Times New Roman', serif" font-size="14" fill="#000">(<tspan font-weight="bold">b</tspan>)</text>
</g>
</svg>
</body></html>
